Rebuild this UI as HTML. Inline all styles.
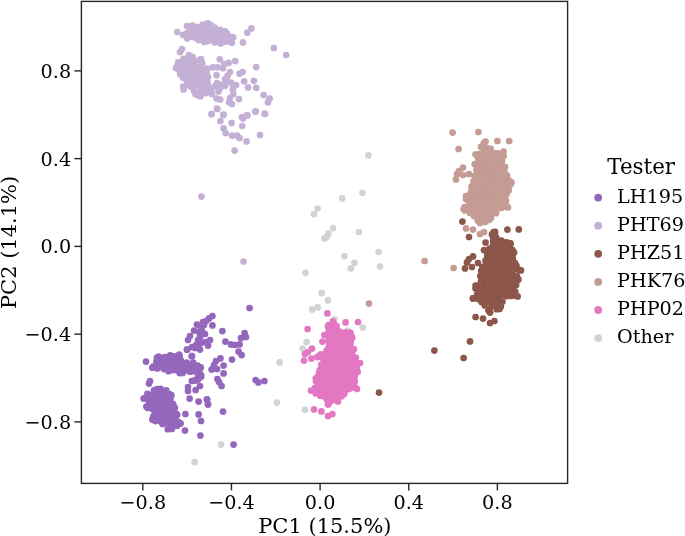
<!DOCTYPE html>
<html><head><meta charset="utf-8"><title>PCA</title>
<style>
html,body{margin:0;padding:0;background:#fff;}
svg{display:block;}
text{font-family:'DejaVu Serif','Liberation Serif',serif;fill:#000;}
</style></head><body>
<svg width="685" height="536" viewBox="0 0 685 536">
<rect width="685" height="536" fill="#ffffff"/>

<g>
<circle cx="183.1" cy="34.9" r="3.35" fill="#c5b0d5"/>
<circle cx="187.2" cy="38.3" r="3.35" fill="#c5b0d5"/>
<circle cx="194.9" cy="37.6" r="3.35" fill="#c5b0d5"/>
<circle cx="198.5" cy="40.1" r="3.35" fill="#c5b0d5"/>
<circle cx="204.1" cy="42.0" r="3.35" fill="#c5b0d5"/>
<circle cx="207.8" cy="41.1" r="3.35" fill="#c5b0d5"/>
<circle cx="214.9" cy="42.5" r="3.35" fill="#c5b0d5"/>
<circle cx="220.7" cy="43.5" r="3.35" fill="#c5b0d5"/>
<circle cx="225.3" cy="41.7" r="3.35" fill="#c5b0d5"/>
<circle cx="232.0" cy="42.7" r="3.35" fill="#c5b0d5"/>
<circle cx="233.2" cy="37.3" r="3.35" fill="#c5b0d5"/>
<circle cx="228.2" cy="35.9" r="3.35" fill="#c5b0d5"/>
<circle cx="225.3" cy="31.4" r="3.35" fill="#c5b0d5"/>
<circle cx="220.1" cy="29.8" r="3.35" fill="#c5b0d5"/>
<circle cx="214.5" cy="27.7" r="3.35" fill="#c5b0d5"/>
<circle cx="210.9" cy="25.0" r="3.35" fill="#c5b0d5"/>
<circle cx="207.7" cy="23.4" r="3.35" fill="#c5b0d5"/>
<circle cx="202.7" cy="24.5" r="3.35" fill="#c5b0d5"/>
<circle cx="197.4" cy="27.0" r="3.35" fill="#c5b0d5"/>
<circle cx="192.7" cy="25.5" r="3.35" fill="#c5b0d5"/>
<circle cx="187.0" cy="26.0" r="3.35" fill="#c5b0d5"/>
<circle cx="187.6" cy="32.9" r="3.35" fill="#c5b0d5"/>
<circle cx="188.8" cy="26.4" r="3.35" fill="#c5b0d5"/>
<circle cx="209.6" cy="25.0" r="3.35" fill="#c5b0d5"/>
<circle cx="191.5" cy="29.8" r="3.35" fill="#c5b0d5"/>
<circle cx="194.9" cy="27.8" r="3.35" fill="#c5b0d5"/>
<circle cx="195.7" cy="29.8" r="3.35" fill="#c5b0d5"/>
<circle cx="200.4" cy="28.4" r="3.35" fill="#c5b0d5"/>
<circle cx="205.1" cy="28.9" r="3.35" fill="#c5b0d5"/>
<circle cx="211.1" cy="29.4" r="3.35" fill="#c5b0d5"/>
<circle cx="213.8" cy="29.2" r="3.35" fill="#c5b0d5"/>
<circle cx="187.7" cy="32.6" r="3.35" fill="#c5b0d5"/>
<circle cx="192.8" cy="32.5" r="3.35" fill="#c5b0d5"/>
<circle cx="195.6" cy="30.3" r="3.35" fill="#c5b0d5"/>
<circle cx="197.6" cy="31.7" r="3.35" fill="#c5b0d5"/>
<circle cx="202.4" cy="31.5" r="3.35" fill="#c5b0d5"/>
<circle cx="209.2" cy="31.3" r="3.35" fill="#c5b0d5"/>
<circle cx="211.4" cy="32.5" r="3.35" fill="#c5b0d5"/>
<circle cx="215.9" cy="30.5" r="3.35" fill="#c5b0d5"/>
<circle cx="222.2" cy="31.6" r="3.35" fill="#c5b0d5"/>
<circle cx="186.9" cy="33.8" r="3.35" fill="#c5b0d5"/>
<circle cx="190.2" cy="33.8" r="3.35" fill="#c5b0d5"/>
<circle cx="192.6" cy="33.8" r="3.35" fill="#c5b0d5"/>
<circle cx="197.8" cy="35.1" r="3.35" fill="#c5b0d5"/>
<circle cx="200.6" cy="35.2" r="3.35" fill="#c5b0d5"/>
<circle cx="203.6" cy="34.2" r="3.35" fill="#c5b0d5"/>
<circle cx="208.5" cy="33.5" r="3.35" fill="#c5b0d5"/>
<circle cx="209.6" cy="33.4" r="3.35" fill="#c5b0d5"/>
<circle cx="214.3" cy="35.6" r="3.35" fill="#c5b0d5"/>
<circle cx="216.3" cy="34.6" r="3.35" fill="#c5b0d5"/>
<circle cx="222.0" cy="34.1" r="3.35" fill="#c5b0d5"/>
<circle cx="224.3" cy="33.4" r="3.35" fill="#c5b0d5"/>
<circle cx="226.5" cy="33.2" r="3.35" fill="#c5b0d5"/>
<circle cx="189.3" cy="36.6" r="3.35" fill="#c5b0d5"/>
<circle cx="192.1" cy="36.5" r="3.35" fill="#c5b0d5"/>
<circle cx="195.8" cy="36.5" r="3.35" fill="#c5b0d5"/>
<circle cx="198.5" cy="38.7" r="3.35" fill="#c5b0d5"/>
<circle cx="202.2" cy="38.3" r="3.35" fill="#c5b0d5"/>
<circle cx="206.1" cy="36.9" r="3.35" fill="#c5b0d5"/>
<circle cx="208.4" cy="36.1" r="3.35" fill="#c5b0d5"/>
<circle cx="213.5" cy="38.1" r="3.35" fill="#c5b0d5"/>
<circle cx="218.6" cy="37.7" r="3.35" fill="#c5b0d5"/>
<circle cx="221.8" cy="38.2" r="3.35" fill="#c5b0d5"/>
<circle cx="227.0" cy="38.4" r="3.35" fill="#c5b0d5"/>
<circle cx="228.9" cy="36.6" r="3.35" fill="#c5b0d5"/>
<circle cx="231.9" cy="37.1" r="3.35" fill="#c5b0d5"/>
<circle cx="203.1" cy="39.3" r="3.35" fill="#c5b0d5"/>
<circle cx="208.0" cy="39.3" r="3.35" fill="#c5b0d5"/>
<circle cx="211.5" cy="40.1" r="3.35" fill="#c5b0d5"/>
<circle cx="216.1" cy="41.1" r="3.35" fill="#c5b0d5"/>
<circle cx="225.0" cy="39.9" r="3.35" fill="#c5b0d5"/>
<circle cx="228.1" cy="39.5" r="3.35" fill="#c5b0d5"/>
<circle cx="230.0" cy="41.4" r="3.35" fill="#c5b0d5"/>
<circle cx="177.2" cy="32.0" r="3.35" fill="#c5b0d5"/>
<circle cx="243.0" cy="42.4" r="3.35" fill="#c5b0d5"/>
<circle cx="247.4" cy="32.6" r="3.35" fill="#c5b0d5"/>
<circle cx="251.4" cy="28.4" r="3.35" fill="#c5b0d5"/>
<circle cx="273.8" cy="48.0" r="3.35" fill="#c5b0d5"/>
<circle cx="286.2" cy="55.0" r="3.35" fill="#c5b0d5"/>
<circle cx="175.9" cy="68.1" r="3.35" fill="#c5b0d5"/>
<circle cx="179.5" cy="70.5" r="3.35" fill="#c5b0d5"/>
<circle cx="180.2" cy="74.2" r="3.35" fill="#c5b0d5"/>
<circle cx="183.0" cy="77.6" r="3.35" fill="#c5b0d5"/>
<circle cx="187.5" cy="84.1" r="3.35" fill="#c5b0d5"/>
<circle cx="191.0" cy="86.7" r="3.35" fill="#c5b0d5"/>
<circle cx="193.9" cy="90.7" r="3.35" fill="#c5b0d5"/>
<circle cx="198.5" cy="95.4" r="3.35" fill="#c5b0d5"/>
<circle cx="200.5" cy="96.2" r="3.35" fill="#c5b0d5"/>
<circle cx="206.0" cy="93.1" r="3.35" fill="#c5b0d5"/>
<circle cx="211.3" cy="89.3" r="3.35" fill="#c5b0d5"/>
<circle cx="206.7" cy="86.9" r="3.35" fill="#c5b0d5"/>
<circle cx="206.9" cy="81.4" r="3.35" fill="#c5b0d5"/>
<circle cx="207.1" cy="76.4" r="3.35" fill="#c5b0d5"/>
<circle cx="206.5" cy="72.7" r="3.35" fill="#c5b0d5"/>
<circle cx="202.6" cy="69.3" r="3.35" fill="#c5b0d5"/>
<circle cx="202.3" cy="63.1" r="3.35" fill="#c5b0d5"/>
<circle cx="199.5" cy="60.0" r="3.35" fill="#c5b0d5"/>
<circle cx="192.5" cy="56.9" r="3.35" fill="#c5b0d5"/>
<circle cx="188.8" cy="55.2" r="3.35" fill="#c5b0d5"/>
<circle cx="183.4" cy="58.9" r="3.35" fill="#c5b0d5"/>
<circle cx="178.2" cy="62.3" r="3.35" fill="#c5b0d5"/>
<circle cx="187.0" cy="59.7" r="3.35" fill="#c5b0d5"/>
<circle cx="190.2" cy="59.3" r="3.35" fill="#c5b0d5"/>
<circle cx="193.2" cy="60.1" r="3.35" fill="#c5b0d5"/>
<circle cx="180.2" cy="62.5" r="3.35" fill="#c5b0d5"/>
<circle cx="183.1" cy="61.7" r="3.35" fill="#c5b0d5"/>
<circle cx="189.2" cy="62.8" r="3.35" fill="#c5b0d5"/>
<circle cx="193.0" cy="61.5" r="3.35" fill="#c5b0d5"/>
<circle cx="195.2" cy="63.0" r="3.35" fill="#c5b0d5"/>
<circle cx="177.8" cy="64.8" r="3.35" fill="#c5b0d5"/>
<circle cx="182.0" cy="66.1" r="3.35" fill="#c5b0d5"/>
<circle cx="184.1" cy="64.1" r="3.35" fill="#c5b0d5"/>
<circle cx="188.0" cy="65.5" r="3.35" fill="#c5b0d5"/>
<circle cx="191.6" cy="64.1" r="3.35" fill="#c5b0d5"/>
<circle cx="178.6" cy="68.1" r="3.35" fill="#c5b0d5"/>
<circle cx="183.6" cy="68.9" r="3.35" fill="#c5b0d5"/>
<circle cx="185.8" cy="67.7" r="3.35" fill="#c5b0d5"/>
<circle cx="188.1" cy="67.5" r="3.35" fill="#c5b0d5"/>
<circle cx="192.8" cy="66.8" r="3.35" fill="#c5b0d5"/>
<circle cx="195.0" cy="68.5" r="3.35" fill="#c5b0d5"/>
<circle cx="199.2" cy="67.7" r="3.35" fill="#c5b0d5"/>
<circle cx="184.1" cy="70.4" r="3.35" fill="#c5b0d5"/>
<circle cx="186.8" cy="70.9" r="3.35" fill="#c5b0d5"/>
<circle cx="189.9" cy="70.1" r="3.35" fill="#c5b0d5"/>
<circle cx="194.1" cy="71.8" r="3.35" fill="#c5b0d5"/>
<circle cx="196.7" cy="71.3" r="3.35" fill="#c5b0d5"/>
<circle cx="201.4" cy="70.3" r="3.35" fill="#c5b0d5"/>
<circle cx="183.1" cy="72.3" r="3.35" fill="#c5b0d5"/>
<circle cx="186.7" cy="74.2" r="3.35" fill="#c5b0d5"/>
<circle cx="188.9" cy="73.5" r="3.35" fill="#c5b0d5"/>
<circle cx="193.5" cy="73.0" r="3.35" fill="#c5b0d5"/>
<circle cx="196.2" cy="73.5" r="3.35" fill="#c5b0d5"/>
<circle cx="200.8" cy="74.4" r="3.35" fill="#c5b0d5"/>
<circle cx="203.9" cy="73.0" r="3.35" fill="#c5b0d5"/>
<circle cx="183.8" cy="77.9" r="3.35" fill="#c5b0d5"/>
<circle cx="192.1" cy="77.9" r="3.35" fill="#c5b0d5"/>
<circle cx="194.8" cy="75.5" r="3.35" fill="#c5b0d5"/>
<circle cx="197.3" cy="75.8" r="3.35" fill="#c5b0d5"/>
<circle cx="201.7" cy="77.1" r="3.35" fill="#c5b0d5"/>
<circle cx="204.7" cy="75.5" r="3.35" fill="#c5b0d5"/>
<circle cx="186.5" cy="79.3" r="3.35" fill="#c5b0d5"/>
<circle cx="190.1" cy="79.7" r="3.35" fill="#c5b0d5"/>
<circle cx="192.6" cy="78.2" r="3.35" fill="#c5b0d5"/>
<circle cx="196.4" cy="80.6" r="3.35" fill="#c5b0d5"/>
<circle cx="198.7" cy="79.5" r="3.35" fill="#c5b0d5"/>
<circle cx="202.9" cy="79.3" r="3.35" fill="#c5b0d5"/>
<circle cx="188.0" cy="82.2" r="3.35" fill="#c5b0d5"/>
<circle cx="194.3" cy="83.1" r="3.35" fill="#c5b0d5"/>
<circle cx="198.2" cy="83.3" r="3.35" fill="#c5b0d5"/>
<circle cx="199.9" cy="83.7" r="3.35" fill="#c5b0d5"/>
<circle cx="205.3" cy="82.8" r="3.35" fill="#c5b0d5"/>
<circle cx="189.6" cy="85.3" r="3.35" fill="#c5b0d5"/>
<circle cx="192.9" cy="85.3" r="3.35" fill="#c5b0d5"/>
<circle cx="197.4" cy="84.3" r="3.35" fill="#c5b0d5"/>
<circle cx="198.2" cy="85.4" r="3.35" fill="#c5b0d5"/>
<circle cx="203.9" cy="85.9" r="3.35" fill="#c5b0d5"/>
<circle cx="206.3" cy="85.9" r="3.35" fill="#c5b0d5"/>
<circle cx="193.4" cy="87.5" r="3.35" fill="#c5b0d5"/>
<circle cx="201.4" cy="89.7" r="3.35" fill="#c5b0d5"/>
<circle cx="204.7" cy="88.1" r="3.35" fill="#c5b0d5"/>
<circle cx="195.0" cy="91.7" r="3.35" fill="#c5b0d5"/>
<circle cx="199.6" cy="92.3" r="3.35" fill="#c5b0d5"/>
<circle cx="203.3" cy="90.8" r="3.35" fill="#c5b0d5"/>
<circle cx="206.2" cy="90.6" r="3.35" fill="#c5b0d5"/>
<circle cx="195.6" cy="94.2" r="3.35" fill="#c5b0d5"/>
<circle cx="200.5" cy="93.5" r="3.35" fill="#c5b0d5"/>
<circle cx="180.0" cy="52.0" r="3.35" fill="#c5b0d5"/>
<circle cx="182.0" cy="49.0" r="3.35" fill="#c5b0d5"/>
<circle cx="183.2" cy="86.6" r="3.35" fill="#c5b0d5"/>
<circle cx="183.6" cy="89.4" r="3.35" fill="#c5b0d5"/>
<circle cx="201.0" cy="59.0" r="3.35" fill="#c5b0d5"/>
<circle cx="229.0" cy="102.0" r="3.35" fill="#c5b0d5"/>
<circle cx="232.0" cy="104.0" r="3.35" fill="#c5b0d5"/>
<circle cx="217.0" cy="108.6" r="3.35" fill="#c5b0d5"/>
<circle cx="211.6" cy="114.0" r="3.35" fill="#c5b0d5"/>
<circle cx="223.4" cy="114.6" r="3.35" fill="#c5b0d5"/>
<circle cx="263.6" cy="95.0" r="3.35" fill="#c5b0d5"/>
<circle cx="269.6" cy="98.6" r="3.35" fill="#c5b0d5"/>
<circle cx="268.0" cy="102.4" r="3.35" fill="#c5b0d5"/>
<circle cx="264.6" cy="113.6" r="3.35" fill="#c5b0d5"/>
<circle cx="255.4" cy="111.6" r="3.35" fill="#c5b0d5"/>
<circle cx="247.0" cy="115.0" r="3.35" fill="#c5b0d5"/>
<circle cx="242.0" cy="117.0" r="3.35" fill="#c5b0d5"/>
<circle cx="207.1" cy="68.7" r="3.35" fill="#c5b0d5"/>
<circle cx="208.1" cy="77.1" r="3.35" fill="#c5b0d5"/>
<circle cx="207.6" cy="82.7" r="3.35" fill="#c5b0d5"/>
<circle cx="209.0" cy="87.4" r="3.35" fill="#c5b0d5"/>
<circle cx="226.8" cy="80.8" r="3.35" fill="#c5b0d5"/>
<circle cx="219.8" cy="59.3" r="3.35" fill="#c5b0d5"/>
<circle cx="228.6" cy="62.9" r="3.35" fill="#c5b0d5"/>
<circle cx="235.2" cy="61.0" r="3.35" fill="#c5b0d5"/>
<circle cx="224.0" cy="64.0" r="3.35" fill="#c5b0d5"/>
<circle cx="212.8" cy="67.3" r="3.35" fill="#c5b0d5"/>
<circle cx="217.4" cy="67.3" r="3.35" fill="#c5b0d5"/>
<circle cx="223.0" cy="68.2" r="3.35" fill="#c5b0d5"/>
<circle cx="230.0" cy="72.0" r="3.35" fill="#c5b0d5"/>
<circle cx="216.5" cy="75.2" r="3.35" fill="#c5b0d5"/>
<circle cx="227.7" cy="75.7" r="3.35" fill="#c5b0d5"/>
<circle cx="224.9" cy="79.0" r="3.35" fill="#c5b0d5"/>
<circle cx="256.2" cy="67.1" r="3.35" fill="#c5b0d5"/>
<circle cx="242.6" cy="72.0" r="3.35" fill="#c5b0d5"/>
<circle cx="239.4" cy="73.8" r="3.35" fill="#c5b0d5"/>
<circle cx="244.1" cy="81.3" r="3.35" fill="#c5b0d5"/>
<circle cx="253.9" cy="80.8" r="3.35" fill="#c5b0d5"/>
<circle cx="248.0" cy="87.4" r="3.35" fill="#c5b0d5"/>
<circle cx="256.2" cy="87.8" r="3.35" fill="#c5b0d5"/>
<circle cx="236.1" cy="85.0" r="3.35" fill="#c5b0d5"/>
<circle cx="231.0" cy="82.7" r="3.35" fill="#c5b0d5"/>
<circle cx="217.0" cy="83.2" r="3.35" fill="#c5b0d5"/>
<circle cx="223.0" cy="84.1" r="3.35" fill="#c5b0d5"/>
<circle cx="215.1" cy="86.0" r="3.35" fill="#c5b0d5"/>
<circle cx="224.9" cy="86.0" r="3.35" fill="#c5b0d5"/>
<circle cx="219.8" cy="88.3" r="3.35" fill="#c5b0d5"/>
<circle cx="232.8" cy="89.2" r="3.35" fill="#c5b0d5"/>
<circle cx="233.3" cy="93.9" r="3.35" fill="#c5b0d5"/>
<circle cx="218.4" cy="91.6" r="3.35" fill="#c5b0d5"/>
<circle cx="211.8" cy="93.9" r="3.35" fill="#c5b0d5"/>
<circle cx="230.0" cy="98.1" r="3.35" fill="#c5b0d5"/>
<circle cx="238.9" cy="99.1" r="3.35" fill="#c5b0d5"/>
<circle cx="216.5" cy="98.6" r="3.35" fill="#c5b0d5"/>
<circle cx="220.2" cy="99.5" r="3.35" fill="#c5b0d5"/>
<circle cx="217.4" cy="109.0" r="3.35" fill="#c5b0d5"/>
<circle cx="211.6" cy="114.2" r="3.35" fill="#c5b0d5"/>
<circle cx="223.4" cy="115.0" r="3.35" fill="#c5b0d5"/>
<circle cx="220.4" cy="121.0" r="3.35" fill="#c5b0d5"/>
<circle cx="231.6" cy="123.0" r="3.35" fill="#c5b0d5"/>
<circle cx="243.0" cy="118.6" r="3.35" fill="#c5b0d5"/>
<circle cx="247.4" cy="115.4" r="3.35" fill="#c5b0d5"/>
<circle cx="255.6" cy="111.4" r="3.35" fill="#c5b0d5"/>
<circle cx="265.0" cy="114.0" r="3.35" fill="#c5b0d5"/>
<circle cx="242.2" cy="126.0" r="3.35" fill="#c5b0d5"/>
<circle cx="223.6" cy="128.4" r="3.35" fill="#c5b0d5"/>
<circle cx="225.6" cy="133.0" r="3.35" fill="#c5b0d5"/>
<circle cx="232.0" cy="135.6" r="3.35" fill="#c5b0d5"/>
<circle cx="237.0" cy="135.6" r="3.35" fill="#c5b0d5"/>
<circle cx="239.6" cy="138.0" r="3.35" fill="#c5b0d5"/>
<circle cx="246.6" cy="141.4" r="3.35" fill="#c5b0d5"/>
<circle cx="260.0" cy="135.0" r="3.35" fill="#c5b0d5"/>
<circle cx="234.6" cy="150.6" r="3.35" fill="#c5b0d5"/>
<circle cx="201.4" cy="196.6" r="3.35" fill="#c5b0d5"/>
<circle cx="243.5" cy="261.5" r="3.35" fill="#c5b0d5"/>
<circle cx="249.6" cy="308.0" r="3.35" fill="#9467bd"/>
<circle cx="146.0" cy="361.6" r="3.35" fill="#9467bd"/>
<circle cx="222.4" cy="331.0" r="3.35" fill="#9467bd"/>
<circle cx="244.6" cy="333.0" r="3.35" fill="#9467bd"/>
<circle cx="246.0" cy="337.0" r="3.35" fill="#9467bd"/>
<circle cx="241.0" cy="338.0" r="3.35" fill="#9467bd"/>
<circle cx="225.4" cy="341.6" r="3.35" fill="#9467bd"/>
<circle cx="231.0" cy="344.4" r="3.35" fill="#9467bd"/>
<circle cx="235.0" cy="345.0" r="3.35" fill="#9467bd"/>
<circle cx="239.6" cy="344.4" r="3.35" fill="#9467bd"/>
<circle cx="238.6" cy="351.6" r="3.35" fill="#9467bd"/>
<circle cx="241.6" cy="355.0" r="3.35" fill="#9467bd"/>
<circle cx="232.0" cy="359.6" r="3.35" fill="#9467bd"/>
<circle cx="220.4" cy="358.4" r="3.35" fill="#9467bd"/>
<circle cx="216.0" cy="361.0" r="3.35" fill="#9467bd"/>
<circle cx="214.0" cy="365.0" r="3.35" fill="#9467bd"/>
<circle cx="223.6" cy="365.6" r="3.35" fill="#9467bd"/>
<circle cx="217.0" cy="369.0" r="3.35" fill="#9467bd"/>
<circle cx="211.6" cy="369.6" r="3.35" fill="#9467bd"/>
<circle cx="223.6" cy="373.4" r="3.35" fill="#9467bd"/>
<circle cx="217.4" cy="379.0" r="3.35" fill="#9467bd"/>
<circle cx="219.0" cy="382.0" r="3.35" fill="#9467bd"/>
<circle cx="221.6" cy="386.0" r="3.35" fill="#9467bd"/>
<circle cx="255.6" cy="380.0" r="3.35" fill="#9467bd"/>
<circle cx="258.4" cy="382.4" r="3.35" fill="#9467bd"/>
<circle cx="264.4" cy="381.0" r="3.35" fill="#9467bd"/>
<circle cx="207.0" cy="399.4" r="3.35" fill="#9467bd"/>
<circle cx="208.0" cy="404.0" r="3.35" fill="#9467bd"/>
<circle cx="188.0" cy="387.0" r="3.35" fill="#9467bd"/>
<circle cx="188.0" cy="391.0" r="3.35" fill="#9467bd"/>
<circle cx="195.6" cy="390.0" r="3.35" fill="#9467bd"/>
<circle cx="200.0" cy="386.0" r="3.35" fill="#9467bd"/>
<circle cx="150.0" cy="381.0" r="3.35" fill="#9467bd"/>
<circle cx="149.0" cy="383.6" r="3.35" fill="#9467bd"/>
<circle cx="212.4" cy="316.0" r="3.35" fill="#9467bd"/>
<circle cx="209.0" cy="318.4" r="3.35" fill="#9467bd"/>
<circle cx="206.0" cy="321.0" r="3.35" fill="#9467bd"/>
<circle cx="212.4" cy="325.4" r="3.35" fill="#9467bd"/>
<circle cx="197.0" cy="324.6" r="3.35" fill="#9467bd"/>
<circle cx="204.0" cy="325.0" r="3.35" fill="#9467bd"/>
<circle cx="201.0" cy="328.0" r="3.35" fill="#9467bd"/>
<circle cx="194.0" cy="330.6" r="3.35" fill="#9467bd"/>
<circle cx="199.0" cy="332.0" r="3.35" fill="#9467bd"/>
<circle cx="205.0" cy="334.0" r="3.35" fill="#9467bd"/>
<circle cx="200.0" cy="337.0" r="3.35" fill="#9467bd"/>
<circle cx="190.0" cy="336.0" r="3.35" fill="#9467bd"/>
<circle cx="188.0" cy="340.0" r="3.35" fill="#9467bd"/>
<circle cx="210.0" cy="340.0" r="3.35" fill="#9467bd"/>
<circle cx="205.0" cy="342.0" r="3.35" fill="#9467bd"/>
<circle cx="201.0" cy="343.0" r="3.35" fill="#9467bd"/>
<circle cx="208.0" cy="345.6" r="3.35" fill="#9467bd"/>
<circle cx="196.0" cy="345.0" r="3.35" fill="#9467bd"/>
<circle cx="192.0" cy="347.0" r="3.35" fill="#9467bd"/>
<circle cx="200.0" cy="349.6" r="3.35" fill="#9467bd"/>
<circle cx="187.0" cy="349.6" r="3.35" fill="#9467bd"/>
<circle cx="192.0" cy="356.0" r="3.35" fill="#9467bd"/>
<circle cx="195.0" cy="348.0" r="3.35" fill="#9467bd"/>
<circle cx="203.0" cy="322.0" r="3.35" fill="#9467bd"/>
<circle cx="202.0" cy="331.0" r="3.35" fill="#9467bd"/>
<circle cx="198.0" cy="340.0" r="3.35" fill="#9467bd"/>
<circle cx="198.0" cy="347.0" r="3.35" fill="#9467bd"/>
<circle cx="153.2" cy="366.5" r="3.35" fill="#9467bd"/>
<circle cx="157.3" cy="368.4" r="3.35" fill="#9467bd"/>
<circle cx="164.1" cy="369.1" r="3.35" fill="#9467bd"/>
<circle cx="168.5" cy="371.2" r="3.35" fill="#9467bd"/>
<circle cx="173.1" cy="369.9" r="3.35" fill="#9467bd"/>
<circle cx="179.6" cy="373.1" r="3.35" fill="#9467bd"/>
<circle cx="182.6" cy="372.9" r="3.35" fill="#9467bd"/>
<circle cx="190.1" cy="371.7" r="3.35" fill="#9467bd"/>
<circle cx="194.9" cy="371.5" r="3.35" fill="#9467bd"/>
<circle cx="198.8" cy="373.7" r="3.35" fill="#9467bd"/>
<circle cx="199.7" cy="369.3" r="3.35" fill="#9467bd"/>
<circle cx="197.6" cy="365.5" r="3.35" fill="#9467bd"/>
<circle cx="193.2" cy="362.6" r="3.35" fill="#9467bd"/>
<circle cx="186.7" cy="362.5" r="3.35" fill="#9467bd"/>
<circle cx="180.8" cy="360.4" r="3.35" fill="#9467bd"/>
<circle cx="179.6" cy="356.3" r="3.35" fill="#9467bd"/>
<circle cx="174.5" cy="356.4" r="3.35" fill="#9467bd"/>
<circle cx="170.2" cy="355.4" r="3.35" fill="#9467bd"/>
<circle cx="165.0" cy="357.0" r="3.35" fill="#9467bd"/>
<circle cx="158.7" cy="356.6" r="3.35" fill="#9467bd"/>
<circle cx="156.4" cy="361.3" r="3.35" fill="#9467bd"/>
<circle cx="158.4" cy="358.2" r="3.35" fill="#9467bd"/>
<circle cx="161.1" cy="357.8" r="3.35" fill="#9467bd"/>
<circle cx="175.7" cy="358.3" r="3.35" fill="#9467bd"/>
<circle cx="178.4" cy="358.9" r="3.35" fill="#9467bd"/>
<circle cx="157.4" cy="360.1" r="3.35" fill="#9467bd"/>
<circle cx="160.7" cy="360.8" r="3.35" fill="#9467bd"/>
<circle cx="164.3" cy="360.6" r="3.35" fill="#9467bd"/>
<circle cx="169.8" cy="360.9" r="3.35" fill="#9467bd"/>
<circle cx="173.5" cy="362.3" r="3.35" fill="#9467bd"/>
<circle cx="176.6" cy="361.7" r="3.35" fill="#9467bd"/>
<circle cx="180.3" cy="360.6" r="3.35" fill="#9467bd"/>
<circle cx="159.2" cy="363.7" r="3.35" fill="#9467bd"/>
<circle cx="161.6" cy="364.1" r="3.35" fill="#9467bd"/>
<circle cx="169.8" cy="365.3" r="3.35" fill="#9467bd"/>
<circle cx="171.8" cy="365.5" r="3.35" fill="#9467bd"/>
<circle cx="174.6" cy="365.0" r="3.35" fill="#9467bd"/>
<circle cx="179.2" cy="364.3" r="3.35" fill="#9467bd"/>
<circle cx="185.8" cy="363.7" r="3.35" fill="#9467bd"/>
<circle cx="187.7" cy="365.4" r="3.35" fill="#9467bd"/>
<circle cx="193.5" cy="365.4" r="3.35" fill="#9467bd"/>
<circle cx="156.7" cy="367.0" r="3.35" fill="#9467bd"/>
<circle cx="160.4" cy="366.8" r="3.35" fill="#9467bd"/>
<circle cx="164.5" cy="367.2" r="3.35" fill="#9467bd"/>
<circle cx="166.5" cy="366.4" r="3.35" fill="#9467bd"/>
<circle cx="171.1" cy="366.4" r="3.35" fill="#9467bd"/>
<circle cx="174.8" cy="368.1" r="3.35" fill="#9467bd"/>
<circle cx="175.7" cy="367.6" r="3.35" fill="#9467bd"/>
<circle cx="179.3" cy="366.6" r="3.35" fill="#9467bd"/>
<circle cx="184.0" cy="367.0" r="3.35" fill="#9467bd"/>
<circle cx="197.5" cy="366.8" r="3.35" fill="#9467bd"/>
<circle cx="171.1" cy="369.9" r="3.35" fill="#9467bd"/>
<circle cx="176.2" cy="369.9" r="3.35" fill="#9467bd"/>
<circle cx="179.1" cy="370.0" r="3.35" fill="#9467bd"/>
<circle cx="182.2" cy="370.8" r="3.35" fill="#9467bd"/>
<circle cx="186.1" cy="370.1" r="3.35" fill="#9467bd"/>
<circle cx="191.2" cy="370.0" r="3.35" fill="#9467bd"/>
<circle cx="196.8" cy="371.4" r="3.35" fill="#9467bd"/>
<circle cx="201.1" cy="375.1" r="3.35" fill="#9467bd"/>
<circle cx="195.8" cy="380.4" r="3.35" fill="#9467bd"/>
<circle cx="197.7" cy="379.4" r="3.35" fill="#9467bd"/>
<circle cx="197.9" cy="377.7" r="3.35" fill="#9467bd"/>
<circle cx="191.8" cy="356.2" r="3.35" fill="#9467bd"/>
<circle cx="187.1" cy="349.7" r="3.35" fill="#9467bd"/>
<circle cx="201.1" cy="376.8" r="3.35" fill="#9467bd"/>
<circle cx="198.3" cy="379.1" r="3.35" fill="#9467bd"/>
<circle cx="194.6" cy="380.3" r="3.35" fill="#9467bd"/>
<circle cx="191.8" cy="381.0" r="3.35" fill="#9467bd"/>
<circle cx="179.2" cy="354.6" r="3.35" fill="#9467bd"/>
<circle cx="152.4" cy="367.7" r="3.35" fill="#9467bd"/>
<circle cx="157.0" cy="357.6" r="3.35" fill="#9467bd"/>
<circle cx="200.7" cy="367.4" r="3.35" fill="#9467bd"/>
<circle cx="146.3" cy="398.5" r="3.35" fill="#9467bd"/>
<circle cx="148.9" cy="399.5" r="3.35" fill="#9467bd"/>
<circle cx="149.0" cy="403.4" r="3.35" fill="#9467bd"/>
<circle cx="147.5" cy="407.8" r="3.35" fill="#9467bd"/>
<circle cx="153.3" cy="409.4" r="3.35" fill="#9467bd"/>
<circle cx="153.5" cy="416.3" r="3.35" fill="#9467bd"/>
<circle cx="155.3" cy="421.1" r="3.35" fill="#9467bd"/>
<circle cx="160.8" cy="421.4" r="3.35" fill="#9467bd"/>
<circle cx="162.6" cy="423.9" r="3.35" fill="#9467bd"/>
<circle cx="167.8" cy="429.2" r="3.35" fill="#9467bd"/>
<circle cx="171.9" cy="428.9" r="3.35" fill="#9467bd"/>
<circle cx="177.0" cy="425.7" r="3.35" fill="#9467bd"/>
<circle cx="180.6" cy="423.4" r="3.35" fill="#9467bd"/>
<circle cx="177.6" cy="422.2" r="3.35" fill="#9467bd"/>
<circle cx="177.2" cy="414.8" r="3.35" fill="#9467bd"/>
<circle cx="174.4" cy="408.3" r="3.35" fill="#9467bd"/>
<circle cx="173.1" cy="404.2" r="3.35" fill="#9467bd"/>
<circle cx="170.4" cy="399.3" r="3.35" fill="#9467bd"/>
<circle cx="171.4" cy="395.2" r="3.35" fill="#9467bd"/>
<circle cx="166.3" cy="390.4" r="3.35" fill="#9467bd"/>
<circle cx="160.7" cy="388.8" r="3.35" fill="#9467bd"/>
<circle cx="157.1" cy="389.2" r="3.35" fill="#9467bd"/>
<circle cx="154.0" cy="390.4" r="3.35" fill="#9467bd"/>
<circle cx="147.4" cy="393.9" r="3.35" fill="#9467bd"/>
<circle cx="156.6" cy="391.4" r="3.35" fill="#9467bd"/>
<circle cx="161.3" cy="390.6" r="3.35" fill="#9467bd"/>
<circle cx="151.6" cy="395.0" r="3.35" fill="#9467bd"/>
<circle cx="155.9" cy="394.0" r="3.35" fill="#9467bd"/>
<circle cx="160.9" cy="394.6" r="3.35" fill="#9467bd"/>
<circle cx="166.2" cy="393.2" r="3.35" fill="#9467bd"/>
<circle cx="169.3" cy="394.0" r="3.35" fill="#9467bd"/>
<circle cx="145.2" cy="397.9" r="3.35" fill="#9467bd"/>
<circle cx="150.2" cy="395.3" r="3.35" fill="#9467bd"/>
<circle cx="152.1" cy="397.9" r="3.35" fill="#9467bd"/>
<circle cx="155.4" cy="395.7" r="3.35" fill="#9467bd"/>
<circle cx="160.1" cy="397.3" r="3.35" fill="#9467bd"/>
<circle cx="167.9" cy="395.3" r="3.35" fill="#9467bd"/>
<circle cx="169.1" cy="397.4" r="3.35" fill="#9467bd"/>
<circle cx="150.2" cy="399.8" r="3.35" fill="#9467bd"/>
<circle cx="155.8" cy="399.8" r="3.35" fill="#9467bd"/>
<circle cx="157.9" cy="400.3" r="3.35" fill="#9467bd"/>
<circle cx="160.3" cy="400.5" r="3.35" fill="#9467bd"/>
<circle cx="165.9" cy="398.4" r="3.35" fill="#9467bd"/>
<circle cx="168.1" cy="400.3" r="3.35" fill="#9467bd"/>
<circle cx="153.9" cy="401.3" r="3.35" fill="#9467bd"/>
<circle cx="155.7" cy="402.0" r="3.35" fill="#9467bd"/>
<circle cx="159.7" cy="403.3" r="3.35" fill="#9467bd"/>
<circle cx="162.4" cy="403.5" r="3.35" fill="#9467bd"/>
<circle cx="165.9" cy="401.5" r="3.35" fill="#9467bd"/>
<circle cx="169.7" cy="402.6" r="3.35" fill="#9467bd"/>
<circle cx="151.1" cy="406.2" r="3.35" fill="#9467bd"/>
<circle cx="155.2" cy="405.9" r="3.35" fill="#9467bd"/>
<circle cx="157.7" cy="406.6" r="3.35" fill="#9467bd"/>
<circle cx="161.6" cy="406.6" r="3.35" fill="#9467bd"/>
<circle cx="164.5" cy="406.5" r="3.35" fill="#9467bd"/>
<circle cx="169.2" cy="405.8" r="3.35" fill="#9467bd"/>
<circle cx="170.9" cy="406.2" r="3.35" fill="#9467bd"/>
<circle cx="150.8" cy="408.1" r="3.35" fill="#9467bd"/>
<circle cx="156.3" cy="409.6" r="3.35" fill="#9467bd"/>
<circle cx="160.4" cy="407.9" r="3.35" fill="#9467bd"/>
<circle cx="162.8" cy="407.1" r="3.35" fill="#9467bd"/>
<circle cx="165.4" cy="409.6" r="3.35" fill="#9467bd"/>
<circle cx="171.1" cy="409.2" r="3.35" fill="#9467bd"/>
<circle cx="174.8" cy="407.5" r="3.35" fill="#9467bd"/>
<circle cx="155.8" cy="410.8" r="3.35" fill="#9467bd"/>
<circle cx="158.0" cy="411.6" r="3.35" fill="#9467bd"/>
<circle cx="162.2" cy="410.9" r="3.35" fill="#9467bd"/>
<circle cx="164.3" cy="410.9" r="3.35" fill="#9467bd"/>
<circle cx="168.8" cy="412.7" r="3.35" fill="#9467bd"/>
<circle cx="172.9" cy="411.1" r="3.35" fill="#9467bd"/>
<circle cx="161.2" cy="415.7" r="3.35" fill="#9467bd"/>
<circle cx="163.6" cy="413.8" r="3.35" fill="#9467bd"/>
<circle cx="165.6" cy="413.7" r="3.35" fill="#9467bd"/>
<circle cx="169.4" cy="415.5" r="3.35" fill="#9467bd"/>
<circle cx="174.6" cy="415.1" r="3.35" fill="#9467bd"/>
<circle cx="176.2" cy="413.8" r="3.35" fill="#9467bd"/>
<circle cx="153.8" cy="416.0" r="3.35" fill="#9467bd"/>
<circle cx="157.2" cy="416.1" r="3.35" fill="#9467bd"/>
<circle cx="161.1" cy="418.4" r="3.35" fill="#9467bd"/>
<circle cx="165.7" cy="417.7" r="3.35" fill="#9467bd"/>
<circle cx="169.5" cy="417.9" r="3.35" fill="#9467bd"/>
<circle cx="172.0" cy="417.8" r="3.35" fill="#9467bd"/>
<circle cx="175.4" cy="417.3" r="3.35" fill="#9467bd"/>
<circle cx="157.5" cy="419.8" r="3.35" fill="#9467bd"/>
<circle cx="159.7" cy="419.0" r="3.35" fill="#9467bd"/>
<circle cx="162.0" cy="421.5" r="3.35" fill="#9467bd"/>
<circle cx="165.8" cy="421.2" r="3.35" fill="#9467bd"/>
<circle cx="169.4" cy="420.4" r="3.35" fill="#9467bd"/>
<circle cx="173.5" cy="420.8" r="3.35" fill="#9467bd"/>
<circle cx="177.8" cy="421.6" r="3.35" fill="#9467bd"/>
<circle cx="165.4" cy="422.5" r="3.35" fill="#9467bd"/>
<circle cx="168.9" cy="422.7" r="3.35" fill="#9467bd"/>
<circle cx="172.2" cy="422.8" r="3.35" fill="#9467bd"/>
<circle cx="176.3" cy="424.3" r="3.35" fill="#9467bd"/>
<circle cx="179.1" cy="423.7" r="3.35" fill="#9467bd"/>
<circle cx="171.5" cy="427.1" r="3.35" fill="#9467bd"/>
<circle cx="172.2" cy="427.1" r="3.35" fill="#9467bd"/>
<circle cx="177.3" cy="424.9" r="3.35" fill="#9467bd"/>
<circle cx="143.6" cy="398.6" r="3.35" fill="#9467bd"/>
<circle cx="146.4" cy="406.6" r="3.35" fill="#9467bd"/>
<circle cx="152.4" cy="419.6" r="3.35" fill="#9467bd"/>
<circle cx="185.4" cy="414.0" r="3.35" fill="#9467bd"/>
<circle cx="185.0" cy="430.6" r="3.35" fill="#9467bd"/>
<circle cx="198.6" cy="414.4" r="3.35" fill="#9467bd"/>
<circle cx="201.0" cy="421.0" r="3.35" fill="#9467bd"/>
<circle cx="200.4" cy="435.6" r="3.35" fill="#9467bd"/>
<circle cx="223.0" cy="411.6" r="3.35" fill="#9467bd"/>
<circle cx="189.6" cy="398.6" r="3.35" fill="#9467bd"/>
<circle cx="198.6" cy="401.6" r="3.35" fill="#9467bd"/>
<circle cx="207.0" cy="399.6" r="3.35" fill="#9467bd"/>
<circle cx="208.0" cy="404.6" r="3.35" fill="#9467bd"/>
<circle cx="233.6" cy="444.6" r="3.35" fill="#9467bd"/>
<circle cx="221.0" cy="444.6" r="3.35" fill="#d3d3d3"/>
<circle cx="194.6" cy="462.0" r="3.35" fill="#d3d3d3"/>
<circle cx="334.6" cy="319.4" r="3.35" fill="#d3d3d3"/>
<circle cx="362.8" cy="327.6" r="3.35" fill="#d3d3d3"/>
<circle cx="347.6" cy="330.6" r="3.35" fill="#d3d3d3"/>
<circle cx="306.6" cy="342.0" r="3.35" fill="#d3d3d3"/>
<circle cx="302.6" cy="348.6" r="3.35" fill="#d3d3d3"/>
<circle cx="279.6" cy="362.4" r="3.35" fill="#d3d3d3"/>
<circle cx="277.0" cy="402.6" r="3.35" fill="#d3d3d3"/>
<circle cx="305.0" cy="409.8" r="3.35" fill="#d3d3d3"/>
<circle cx="333.0" cy="228.0" r="3.35" fill="#d3d3d3"/>
<circle cx="328.4" cy="233.6" r="3.35" fill="#d3d3d3"/>
<circle cx="327.0" cy="236.4" r="3.35" fill="#d3d3d3"/>
<circle cx="324.4" cy="238.6" r="3.35" fill="#d3d3d3"/>
<circle cx="359.0" cy="232.0" r="3.35" fill="#d3d3d3"/>
<circle cx="378.6" cy="252.0" r="3.35" fill="#d3d3d3"/>
<circle cx="344.4" cy="256.0" r="3.35" fill="#d3d3d3"/>
<circle cx="354.4" cy="262.8" r="3.35" fill="#d3d3d3"/>
<circle cx="350.8" cy="268.4" r="3.35" fill="#d3d3d3"/>
<circle cx="380.0" cy="266.6" r="3.35" fill="#d3d3d3"/>
<circle cx="305.6" cy="272.8" r="3.35" fill="#d3d3d3"/>
<circle cx="321.6" cy="293.0" r="3.35" fill="#d3d3d3"/>
<circle cx="328.0" cy="300.4" r="3.35" fill="#d3d3d3"/>
<circle cx="317.6" cy="307.4" r="3.35" fill="#d3d3d3"/>
<circle cx="312.2" cy="309.4" r="3.35" fill="#d3d3d3"/>
<circle cx="368.4" cy="155.4" r="3.35" fill="#d3d3d3"/>
<circle cx="362.4" cy="192.8" r="3.35" fill="#d3d3d3"/>
<circle cx="342.2" cy="198.4" r="3.35" fill="#d3d3d3"/>
<circle cx="317.6" cy="208.6" r="3.35" fill="#d3d3d3"/>
<circle cx="314.0" cy="214.2" r="3.35" fill="#d3d3d3"/>
<circle cx="328.0" cy="326.8" r="3.35" fill="#e377c2"/>
<circle cx="328.4" cy="332.6" r="3.35" fill="#e377c2"/>
<circle cx="329.5" cy="337.4" r="3.35" fill="#e377c2"/>
<circle cx="328.3" cy="341.1" r="3.35" fill="#e377c2"/>
<circle cx="328.8" cy="346.5" r="3.35" fill="#e377c2"/>
<circle cx="326.5" cy="350.5" r="3.35" fill="#e377c2"/>
<circle cx="320.3" cy="354.6" r="3.35" fill="#e377c2"/>
<circle cx="317.2" cy="357.1" r="3.35" fill="#e377c2"/>
<circle cx="321.3" cy="364.5" r="3.35" fill="#e377c2"/>
<circle cx="319.8" cy="370.1" r="3.35" fill="#e377c2"/>
<circle cx="318.9" cy="373.1" r="3.35" fill="#e377c2"/>
<circle cx="317.0" cy="377.9" r="3.35" fill="#e377c2"/>
<circle cx="315.9" cy="381.3" r="3.35" fill="#e377c2"/>
<circle cx="315.0" cy="387.9" r="3.35" fill="#e377c2"/>
<circle cx="315.6" cy="393.3" r="3.35" fill="#e377c2"/>
<circle cx="320.3" cy="395.7" r="3.35" fill="#e377c2"/>
<circle cx="327.3" cy="400.2" r="3.35" fill="#e377c2"/>
<circle cx="329.7" cy="402.3" r="3.35" fill="#e377c2"/>
<circle cx="333.5" cy="399.1" r="3.35" fill="#e377c2"/>
<circle cx="336.8" cy="400.6" r="3.35" fill="#e377c2"/>
<circle cx="341.1" cy="396.4" r="3.35" fill="#e377c2"/>
<circle cx="344.5" cy="393.0" r="3.35" fill="#e377c2"/>
<circle cx="348.5" cy="388.8" r="3.35" fill="#e377c2"/>
<circle cx="354.2" cy="387.0" r="3.35" fill="#e377c2"/>
<circle cx="355.6" cy="387.8" r="3.35" fill="#e377c2"/>
<circle cx="354.8" cy="381.4" r="3.35" fill="#e377c2"/>
<circle cx="354.6" cy="376.3" r="3.35" fill="#e377c2"/>
<circle cx="357.1" cy="370.4" r="3.35" fill="#e377c2"/>
<circle cx="356.8" cy="366.9" r="3.35" fill="#e377c2"/>
<circle cx="354.9" cy="362.6" r="3.35" fill="#e377c2"/>
<circle cx="355.8" cy="357.5" r="3.35" fill="#e377c2"/>
<circle cx="351.9" cy="352.2" r="3.35" fill="#e377c2"/>
<circle cx="353.9" cy="349.2" r="3.35" fill="#e377c2"/>
<circle cx="350.5" cy="343.3" r="3.35" fill="#e377c2"/>
<circle cx="352.2" cy="337.9" r="3.35" fill="#e377c2"/>
<circle cx="350.1" cy="332.6" r="3.35" fill="#e377c2"/>
<circle cx="345.1" cy="332.5" r="3.35" fill="#e377c2"/>
<circle cx="339.8" cy="331.7" r="3.35" fill="#e377c2"/>
<circle cx="335.4" cy="328.8" r="3.35" fill="#e377c2"/>
<circle cx="333.7" cy="323.6" r="3.35" fill="#e377c2"/>
<circle cx="334.0" cy="327.6" r="3.35" fill="#e377c2"/>
<circle cx="330.9" cy="328.5" r="3.35" fill="#e377c2"/>
<circle cx="333.5" cy="329.2" r="3.35" fill="#e377c2"/>
<circle cx="330.5" cy="332.7" r="3.35" fill="#e377c2"/>
<circle cx="332.1" cy="332.5" r="3.35" fill="#e377c2"/>
<circle cx="337.7" cy="333.5" r="3.35" fill="#e377c2"/>
<circle cx="350.4" cy="333.3" r="3.35" fill="#e377c2"/>
<circle cx="331.4" cy="334.7" r="3.35" fill="#e377c2"/>
<circle cx="333.8" cy="335.6" r="3.35" fill="#e377c2"/>
<circle cx="337.6" cy="336.0" r="3.35" fill="#e377c2"/>
<circle cx="340.3" cy="335.3" r="3.35" fill="#e377c2"/>
<circle cx="346.2" cy="336.0" r="3.35" fill="#e377c2"/>
<circle cx="347.8" cy="334.3" r="3.35" fill="#e377c2"/>
<circle cx="351.2" cy="335.5" r="3.35" fill="#e377c2"/>
<circle cx="329.6" cy="337.8" r="3.35" fill="#e377c2"/>
<circle cx="333.3" cy="336.9" r="3.35" fill="#e377c2"/>
<circle cx="336.4" cy="339.3" r="3.35" fill="#e377c2"/>
<circle cx="344.1" cy="338.0" r="3.35" fill="#e377c2"/>
<circle cx="347.3" cy="338.6" r="3.35" fill="#e377c2"/>
<circle cx="351.2" cy="337.9" r="3.35" fill="#e377c2"/>
<circle cx="331.4" cy="340.7" r="3.35" fill="#e377c2"/>
<circle cx="335.0" cy="342.0" r="3.35" fill="#e377c2"/>
<circle cx="337.0" cy="340.4" r="3.35" fill="#e377c2"/>
<circle cx="342.5" cy="341.9" r="3.35" fill="#e377c2"/>
<circle cx="345.4" cy="339.9" r="3.35" fill="#e377c2"/>
<circle cx="349.7" cy="342.5" r="3.35" fill="#e377c2"/>
<circle cx="350.6" cy="342.1" r="3.35" fill="#e377c2"/>
<circle cx="336.7" cy="344.8" r="3.35" fill="#e377c2"/>
<circle cx="340.9" cy="343.1" r="3.35" fill="#e377c2"/>
<circle cx="343.1" cy="343.6" r="3.35" fill="#e377c2"/>
<circle cx="347.0" cy="344.1" r="3.35" fill="#e377c2"/>
<circle cx="349.8" cy="342.9" r="3.35" fill="#e377c2"/>
<circle cx="332.0" cy="346.2" r="3.35" fill="#e377c2"/>
<circle cx="335.2" cy="345.9" r="3.35" fill="#e377c2"/>
<circle cx="338.7" cy="346.0" r="3.35" fill="#e377c2"/>
<circle cx="340.6" cy="347.3" r="3.35" fill="#e377c2"/>
<circle cx="344.3" cy="348.1" r="3.35" fill="#e377c2"/>
<circle cx="348.3" cy="346.6" r="3.35" fill="#e377c2"/>
<circle cx="329.3" cy="349.3" r="3.35" fill="#e377c2"/>
<circle cx="333.4" cy="349.6" r="3.35" fill="#e377c2"/>
<circle cx="335.5" cy="350.9" r="3.35" fill="#e377c2"/>
<circle cx="340.3" cy="350.9" r="3.35" fill="#e377c2"/>
<circle cx="343.1" cy="351.0" r="3.35" fill="#e377c2"/>
<circle cx="346.7" cy="350.3" r="3.35" fill="#e377c2"/>
<circle cx="327.1" cy="352.1" r="3.35" fill="#e377c2"/>
<circle cx="331.1" cy="354.0" r="3.35" fill="#e377c2"/>
<circle cx="334.1" cy="352.4" r="3.35" fill="#e377c2"/>
<circle cx="337.3" cy="352.4" r="3.35" fill="#e377c2"/>
<circle cx="340.9" cy="352.9" r="3.35" fill="#e377c2"/>
<circle cx="343.7" cy="354.1" r="3.35" fill="#e377c2"/>
<circle cx="348.0" cy="354.2" r="3.35" fill="#e377c2"/>
<circle cx="320.0" cy="356.6" r="3.35" fill="#e377c2"/>
<circle cx="322.1" cy="354.6" r="3.35" fill="#e377c2"/>
<circle cx="325.1" cy="355.7" r="3.35" fill="#e377c2"/>
<circle cx="329.3" cy="355.4" r="3.35" fill="#e377c2"/>
<circle cx="332.5" cy="356.6" r="3.35" fill="#e377c2"/>
<circle cx="337.1" cy="355.0" r="3.35" fill="#e377c2"/>
<circle cx="339.2" cy="356.4" r="3.35" fill="#e377c2"/>
<circle cx="344.5" cy="356.3" r="3.35" fill="#e377c2"/>
<circle cx="348.9" cy="356.7" r="3.35" fill="#e377c2"/>
<circle cx="352.3" cy="356.1" r="3.35" fill="#e377c2"/>
<circle cx="322.4" cy="357.7" r="3.35" fill="#e377c2"/>
<circle cx="327.3" cy="358.6" r="3.35" fill="#e377c2"/>
<circle cx="330.9" cy="357.7" r="3.35" fill="#e377c2"/>
<circle cx="333.5" cy="360.2" r="3.35" fill="#e377c2"/>
<circle cx="337.3" cy="358.9" r="3.35" fill="#e377c2"/>
<circle cx="341.3" cy="359.0" r="3.35" fill="#e377c2"/>
<circle cx="343.9" cy="358.4" r="3.35" fill="#e377c2"/>
<circle cx="347.3" cy="359.0" r="3.35" fill="#e377c2"/>
<circle cx="352.1" cy="359.9" r="3.35" fill="#e377c2"/>
<circle cx="353.9" cy="359.0" r="3.35" fill="#e377c2"/>
<circle cx="324.0" cy="361.3" r="3.35" fill="#e377c2"/>
<circle cx="327.2" cy="361.1" r="3.35" fill="#e377c2"/>
<circle cx="328.6" cy="361.3" r="3.35" fill="#e377c2"/>
<circle cx="332.0" cy="362.6" r="3.35" fill="#e377c2"/>
<circle cx="337.4" cy="361.3" r="3.35" fill="#e377c2"/>
<circle cx="338.9" cy="360.7" r="3.35" fill="#e377c2"/>
<circle cx="342.6" cy="360.7" r="3.35" fill="#e377c2"/>
<circle cx="346.5" cy="362.1" r="3.35" fill="#e377c2"/>
<circle cx="349.4" cy="360.7" r="3.35" fill="#e377c2"/>
<circle cx="352.3" cy="361.0" r="3.35" fill="#e377c2"/>
<circle cx="322.3" cy="365.2" r="3.35" fill="#e377c2"/>
<circle cx="324.8" cy="364.7" r="3.35" fill="#e377c2"/>
<circle cx="328.4" cy="366.1" r="3.35" fill="#e377c2"/>
<circle cx="332.0" cy="365.4" r="3.35" fill="#e377c2"/>
<circle cx="334.2" cy="365.7" r="3.35" fill="#e377c2"/>
<circle cx="337.9" cy="363.8" r="3.35" fill="#e377c2"/>
<circle cx="340.4" cy="363.9" r="3.35" fill="#e377c2"/>
<circle cx="344.3" cy="365.3" r="3.35" fill="#e377c2"/>
<circle cx="347.8" cy="363.6" r="3.35" fill="#e377c2"/>
<circle cx="354.0" cy="363.8" r="3.35" fill="#e377c2"/>
<circle cx="322.7" cy="367.4" r="3.35" fill="#e377c2"/>
<circle cx="325.0" cy="368.0" r="3.35" fill="#e377c2"/>
<circle cx="330.3" cy="366.7" r="3.35" fill="#e377c2"/>
<circle cx="333.2" cy="366.9" r="3.35" fill="#e377c2"/>
<circle cx="337.1" cy="367.6" r="3.35" fill="#e377c2"/>
<circle cx="341.1" cy="368.6" r="3.35" fill="#e377c2"/>
<circle cx="342.3" cy="367.3" r="3.35" fill="#e377c2"/>
<circle cx="347.8" cy="367.7" r="3.35" fill="#e377c2"/>
<circle cx="349.9" cy="367.6" r="3.35" fill="#e377c2"/>
<circle cx="354.2" cy="369.0" r="3.35" fill="#e377c2"/>
<circle cx="322.5" cy="369.5" r="3.35" fill="#e377c2"/>
<circle cx="324.5" cy="371.8" r="3.35" fill="#e377c2"/>
<circle cx="327.2" cy="370.1" r="3.35" fill="#e377c2"/>
<circle cx="330.6" cy="370.9" r="3.35" fill="#e377c2"/>
<circle cx="334.4" cy="371.4" r="3.35" fill="#e377c2"/>
<circle cx="337.5" cy="370.3" r="3.35" fill="#e377c2"/>
<circle cx="340.9" cy="372.0" r="3.35" fill="#e377c2"/>
<circle cx="345.9" cy="371.7" r="3.35" fill="#e377c2"/>
<circle cx="348.7" cy="370.5" r="3.35" fill="#e377c2"/>
<circle cx="350.8" cy="371.6" r="3.35" fill="#e377c2"/>
<circle cx="322.4" cy="374.2" r="3.35" fill="#e377c2"/>
<circle cx="326.6" cy="374.5" r="3.35" fill="#e377c2"/>
<circle cx="329.4" cy="372.4" r="3.35" fill="#e377c2"/>
<circle cx="333.1" cy="373.9" r="3.35" fill="#e377c2"/>
<circle cx="335.6" cy="373.4" r="3.35" fill="#e377c2"/>
<circle cx="339.4" cy="372.4" r="3.35" fill="#e377c2"/>
<circle cx="342.8" cy="373.4" r="3.35" fill="#e377c2"/>
<circle cx="346.6" cy="374.2" r="3.35" fill="#e377c2"/>
<circle cx="349.8" cy="375.0" r="3.35" fill="#e377c2"/>
<circle cx="354.6" cy="374.2" r="3.35" fill="#e377c2"/>
<circle cx="318.3" cy="376.7" r="3.35" fill="#e377c2"/>
<circle cx="320.0" cy="375.5" r="3.35" fill="#e377c2"/>
<circle cx="324.8" cy="377.4" r="3.35" fill="#e377c2"/>
<circle cx="328.6" cy="376.1" r="3.35" fill="#e377c2"/>
<circle cx="332.6" cy="376.0" r="3.35" fill="#e377c2"/>
<circle cx="335.4" cy="375.5" r="3.35" fill="#e377c2"/>
<circle cx="338.9" cy="377.1" r="3.35" fill="#e377c2"/>
<circle cx="342.8" cy="377.7" r="3.35" fill="#e377c2"/>
<circle cx="345.5" cy="377.6" r="3.35" fill="#e377c2"/>
<circle cx="349.0" cy="376.9" r="3.35" fill="#e377c2"/>
<circle cx="351.8" cy="377.7" r="3.35" fill="#e377c2"/>
<circle cx="315.8" cy="378.3" r="3.35" fill="#e377c2"/>
<circle cx="318.6" cy="380.0" r="3.35" fill="#e377c2"/>
<circle cx="324.0" cy="379.9" r="3.35" fill="#e377c2"/>
<circle cx="326.0" cy="378.5" r="3.35" fill="#e377c2"/>
<circle cx="330.2" cy="379.7" r="3.35" fill="#e377c2"/>
<circle cx="333.7" cy="379.3" r="3.35" fill="#e377c2"/>
<circle cx="337.5" cy="378.8" r="3.35" fill="#e377c2"/>
<circle cx="339.4" cy="379.0" r="3.35" fill="#e377c2"/>
<circle cx="343.6" cy="380.7" r="3.35" fill="#e377c2"/>
<circle cx="345.8" cy="380.0" r="3.35" fill="#e377c2"/>
<circle cx="353.7" cy="380.5" r="3.35" fill="#e377c2"/>
<circle cx="318.9" cy="382.0" r="3.35" fill="#e377c2"/>
<circle cx="321.5" cy="383.8" r="3.35" fill="#e377c2"/>
<circle cx="323.3" cy="381.5" r="3.35" fill="#e377c2"/>
<circle cx="328.2" cy="382.8" r="3.35" fill="#e377c2"/>
<circle cx="330.5" cy="381.7" r="3.35" fill="#e377c2"/>
<circle cx="335.1" cy="383.0" r="3.35" fill="#e377c2"/>
<circle cx="338.7" cy="383.2" r="3.35" fill="#e377c2"/>
<circle cx="340.4" cy="382.5" r="3.35" fill="#e377c2"/>
<circle cx="345.9" cy="383.8" r="3.35" fill="#e377c2"/>
<circle cx="349.3" cy="383.0" r="3.35" fill="#e377c2"/>
<circle cx="351.1" cy="383.1" r="3.35" fill="#e377c2"/>
<circle cx="318.4" cy="384.6" r="3.35" fill="#e377c2"/>
<circle cx="321.8" cy="386.2" r="3.35" fill="#e377c2"/>
<circle cx="327.2" cy="386.3" r="3.35" fill="#e377c2"/>
<circle cx="330.3" cy="386.7" r="3.35" fill="#e377c2"/>
<circle cx="334.3" cy="385.9" r="3.35" fill="#e377c2"/>
<circle cx="337.8" cy="384.4" r="3.35" fill="#e377c2"/>
<circle cx="338.8" cy="384.3" r="3.35" fill="#e377c2"/>
<circle cx="342.5" cy="385.2" r="3.35" fill="#e377c2"/>
<circle cx="346.6" cy="386.0" r="3.35" fill="#e377c2"/>
<circle cx="349.0" cy="385.3" r="3.35" fill="#e377c2"/>
<circle cx="353.2" cy="384.5" r="3.35" fill="#e377c2"/>
<circle cx="319.0" cy="387.3" r="3.35" fill="#e377c2"/>
<circle cx="321.8" cy="387.9" r="3.35" fill="#e377c2"/>
<circle cx="323.6" cy="388.4" r="3.35" fill="#e377c2"/>
<circle cx="327.6" cy="389.1" r="3.35" fill="#e377c2"/>
<circle cx="332.5" cy="388.2" r="3.35" fill="#e377c2"/>
<circle cx="334.2" cy="388.5" r="3.35" fill="#e377c2"/>
<circle cx="338.7" cy="389.3" r="3.35" fill="#e377c2"/>
<circle cx="341.0" cy="388.0" r="3.35" fill="#e377c2"/>
<circle cx="345.0" cy="387.3" r="3.35" fill="#e377c2"/>
<circle cx="351.2" cy="387.4" r="3.35" fill="#e377c2"/>
<circle cx="318.4" cy="391.0" r="3.35" fill="#e377c2"/>
<circle cx="321.5" cy="392.2" r="3.35" fill="#e377c2"/>
<circle cx="325.0" cy="390.8" r="3.35" fill="#e377c2"/>
<circle cx="329.6" cy="391.1" r="3.35" fill="#e377c2"/>
<circle cx="333.1" cy="390.2" r="3.35" fill="#e377c2"/>
<circle cx="335.7" cy="392.7" r="3.35" fill="#e377c2"/>
<circle cx="339.8" cy="390.3" r="3.35" fill="#e377c2"/>
<circle cx="321.0" cy="395.4" r="3.35" fill="#e377c2"/>
<circle cx="325.7" cy="394.1" r="3.35" fill="#e377c2"/>
<circle cx="328.7" cy="395.5" r="3.35" fill="#e377c2"/>
<circle cx="332.2" cy="394.2" r="3.35" fill="#e377c2"/>
<circle cx="336.1" cy="393.6" r="3.35" fill="#e377c2"/>
<circle cx="337.6" cy="394.3" r="3.35" fill="#e377c2"/>
<circle cx="342.0" cy="393.4" r="3.35" fill="#e377c2"/>
<circle cx="325.4" cy="397.2" r="3.35" fill="#e377c2"/>
<circle cx="330.4" cy="397.0" r="3.35" fill="#e377c2"/>
<circle cx="332.1" cy="397.4" r="3.35" fill="#e377c2"/>
<circle cx="333.5" cy="399.8" r="3.35" fill="#e377c2"/>
<circle cx="307.6" cy="329.0" r="3.35" fill="#e377c2"/>
<circle cx="324.4" cy="335.0" r="3.35" fill="#e377c2"/>
<circle cx="322.4" cy="341.6" r="3.35" fill="#e377c2"/>
<circle cx="312.0" cy="348.6" r="3.35" fill="#e377c2"/>
<circle cx="308.0" cy="352.0" r="3.35" fill="#e377c2"/>
<circle cx="305.0" cy="354.0" r="3.35" fill="#e377c2"/>
<circle cx="304.0" cy="360.6" r="3.35" fill="#e377c2"/>
<circle cx="311.4" cy="358.6" r="3.35" fill="#e377c2"/>
<circle cx="345.6" cy="322.4" r="3.35" fill="#e377c2"/>
<circle cx="358.0" cy="322.0" r="3.35" fill="#e377c2"/>
<circle cx="360.0" cy="363.0" r="3.35" fill="#e377c2"/>
<circle cx="311.0" cy="390.6" r="3.35" fill="#e377c2"/>
<circle cx="314.0" cy="409.4" r="3.35" fill="#e377c2"/>
<circle cx="321.4" cy="411.4" r="3.35" fill="#e377c2"/>
<circle cx="328.0" cy="416.0" r="3.35" fill="#e377c2"/>
<circle cx="332.4" cy="414.0" r="3.35" fill="#e377c2"/>
<circle cx="327.4" cy="313.4" r="3.35" fill="#e377c2"/>
<circle cx="357.6" cy="372.0" r="3.35" fill="#e377c2"/>
<circle cx="357.0" cy="389.0" r="3.35" fill="#e377c2"/>
<circle cx="349.0" cy="389.0" r="3.35" fill="#e377c2"/>
<circle cx="343.4" cy="394.6" r="3.35" fill="#e377c2"/>
<circle cx="338.0" cy="401.4" r="3.35" fill="#e377c2"/>
<circle cx="328.0" cy="404.4" r="3.35" fill="#e377c2"/>
<circle cx="332.8" cy="321.3" r="3.35" fill="#e377c2"/>
<circle cx="328.5" cy="325.1" r="3.35" fill="#e377c2"/>
<circle cx="336.6" cy="326.2" r="3.35" fill="#e377c2"/>
<circle cx="379.0" cy="392.6" r="3.35" fill="#8c564b"/>
<circle cx="369.0" cy="303.6" r="3.35" fill="#c49c94"/>
<circle cx="480.9" cy="146.8" r="3.35" fill="#c49c94"/>
<circle cx="483.7" cy="148.7" r="3.35" fill="#c49c94"/>
<circle cx="479.8" cy="153.9" r="3.35" fill="#c49c94"/>
<circle cx="479.0" cy="155.6" r="3.35" fill="#c49c94"/>
<circle cx="478.2" cy="159.0" r="3.35" fill="#c49c94"/>
<circle cx="474.8" cy="164.2" r="3.35" fill="#c49c94"/>
<circle cx="476.5" cy="169.5" r="3.35" fill="#c49c94"/>
<circle cx="476.9" cy="172.1" r="3.35" fill="#c49c94"/>
<circle cx="474.5" cy="176.0" r="3.35" fill="#c49c94"/>
<circle cx="473.6" cy="181.3" r="3.35" fill="#c49c94"/>
<circle cx="471.8" cy="188.3" r="3.35" fill="#c49c94"/>
<circle cx="471.2" cy="191.5" r="3.35" fill="#c49c94"/>
<circle cx="467.6" cy="196.7" r="3.35" fill="#c49c94"/>
<circle cx="468.5" cy="200.7" r="3.35" fill="#c49c94"/>
<circle cx="464.6" cy="207.0" r="3.35" fill="#c49c94"/>
<circle cx="465.0" cy="210.5" r="3.35" fill="#c49c94"/>
<circle cx="471.2" cy="211.1" r="3.35" fill="#c49c94"/>
<circle cx="476.0" cy="215.4" r="3.35" fill="#c49c94"/>
<circle cx="477.7" cy="220.5" r="3.35" fill="#c49c94"/>
<circle cx="481.7" cy="218.9" r="3.35" fill="#c49c94"/>
<circle cx="487.2" cy="219.9" r="3.35" fill="#c49c94"/>
<circle cx="490.2" cy="217.7" r="3.35" fill="#c49c94"/>
<circle cx="495.8" cy="212.9" r="3.35" fill="#c49c94"/>
<circle cx="497.6" cy="208.7" r="3.35" fill="#c49c94"/>
<circle cx="501.5" cy="207.8" r="3.35" fill="#c49c94"/>
<circle cx="505.1" cy="206.7" r="3.35" fill="#c49c94"/>
<circle cx="505.7" cy="203.8" r="3.35" fill="#c49c94"/>
<circle cx="506.0" cy="200.3" r="3.35" fill="#c49c94"/>
<circle cx="506.5" cy="194.2" r="3.35" fill="#c49c94"/>
<circle cx="508.2" cy="188.8" r="3.35" fill="#c49c94"/>
<circle cx="510.4" cy="184.4" r="3.35" fill="#c49c94"/>
<circle cx="509.4" cy="181.1" r="3.35" fill="#c49c94"/>
<circle cx="507.2" cy="176.2" r="3.35" fill="#c49c94"/>
<circle cx="504.6" cy="172.7" r="3.35" fill="#c49c94"/>
<circle cx="505.0" cy="166.9" r="3.35" fill="#c49c94"/>
<circle cx="501.1" cy="161.8" r="3.35" fill="#c49c94"/>
<circle cx="503.6" cy="156.2" r="3.35" fill="#c49c94"/>
<circle cx="500.4" cy="153.9" r="3.35" fill="#c49c94"/>
<circle cx="497.2" cy="153.4" r="3.35" fill="#c49c94"/>
<circle cx="490.7" cy="148.9" r="3.35" fill="#c49c94"/>
<circle cx="487.1" cy="148.4" r="3.35" fill="#c49c94"/>
<circle cx="485.5" cy="141.6" r="3.35" fill="#c49c94"/>
<circle cx="484.2" cy="142.8" r="3.35" fill="#c49c94"/>
<circle cx="483.5" cy="144.1" r="3.35" fill="#c49c94"/>
<circle cx="483.9" cy="148.3" r="3.35" fill="#c49c94"/>
<circle cx="486.7" cy="151.2" r="3.35" fill="#c49c94"/>
<circle cx="488.8" cy="150.0" r="3.35" fill="#c49c94"/>
<circle cx="481.6" cy="154.1" r="3.35" fill="#c49c94"/>
<circle cx="483.6" cy="153.7" r="3.35" fill="#c49c94"/>
<circle cx="489.6" cy="154.9" r="3.35" fill="#c49c94"/>
<circle cx="491.2" cy="153.7" r="3.35" fill="#c49c94"/>
<circle cx="495.5" cy="153.3" r="3.35" fill="#c49c94"/>
<circle cx="497.7" cy="154.4" r="3.35" fill="#c49c94"/>
<circle cx="479.9" cy="155.9" r="3.35" fill="#c49c94"/>
<circle cx="484.5" cy="156.4" r="3.35" fill="#c49c94"/>
<circle cx="487.5" cy="157.8" r="3.35" fill="#c49c94"/>
<circle cx="494.1" cy="155.5" r="3.35" fill="#c49c94"/>
<circle cx="499.3" cy="155.7" r="3.35" fill="#c49c94"/>
<circle cx="482.0" cy="158.8" r="3.35" fill="#c49c94"/>
<circle cx="484.0" cy="159.3" r="3.35" fill="#c49c94"/>
<circle cx="487.6" cy="160.0" r="3.35" fill="#c49c94"/>
<circle cx="490.9" cy="159.3" r="3.35" fill="#c49c94"/>
<circle cx="495.8" cy="160.7" r="3.35" fill="#c49c94"/>
<circle cx="502.0" cy="160.9" r="3.35" fill="#c49c94"/>
<circle cx="476.7" cy="163.9" r="3.35" fill="#c49c94"/>
<circle cx="479.8" cy="163.3" r="3.35" fill="#c49c94"/>
<circle cx="484.5" cy="161.4" r="3.35" fill="#c49c94"/>
<circle cx="487.3" cy="161.8" r="3.35" fill="#c49c94"/>
<circle cx="489.5" cy="163.8" r="3.35" fill="#c49c94"/>
<circle cx="494.3" cy="161.8" r="3.35" fill="#c49c94"/>
<circle cx="498.0" cy="161.8" r="3.35" fill="#c49c94"/>
<circle cx="500.1" cy="163.7" r="3.35" fill="#c49c94"/>
<circle cx="477.6" cy="164.2" r="3.35" fill="#c49c94"/>
<circle cx="480.4" cy="166.7" r="3.35" fill="#c49c94"/>
<circle cx="485.5" cy="166.5" r="3.35" fill="#c49c94"/>
<circle cx="487.3" cy="166.2" r="3.35" fill="#c49c94"/>
<circle cx="491.3" cy="166.2" r="3.35" fill="#c49c94"/>
<circle cx="495.7" cy="166.3" r="3.35" fill="#c49c94"/>
<circle cx="499.7" cy="166.6" r="3.35" fill="#c49c94"/>
<circle cx="480.6" cy="169.2" r="3.35" fill="#c49c94"/>
<circle cx="483.7" cy="167.8" r="3.35" fill="#c49c94"/>
<circle cx="487.6" cy="169.2" r="3.35" fill="#c49c94"/>
<circle cx="490.0" cy="167.8" r="3.35" fill="#c49c94"/>
<circle cx="494.7" cy="169.7" r="3.35" fill="#c49c94"/>
<circle cx="496.9" cy="169.3" r="3.35" fill="#c49c94"/>
<circle cx="500.3" cy="167.8" r="3.35" fill="#c49c94"/>
<circle cx="503.1" cy="169.4" r="3.35" fill="#c49c94"/>
<circle cx="481.9" cy="171.3" r="3.35" fill="#c49c94"/>
<circle cx="485.2" cy="170.4" r="3.35" fill="#c49c94"/>
<circle cx="488.9" cy="172.7" r="3.35" fill="#c49c94"/>
<circle cx="490.5" cy="172.5" r="3.35" fill="#c49c94"/>
<circle cx="494.3" cy="171.2" r="3.35" fill="#c49c94"/>
<circle cx="497.7" cy="172.7" r="3.35" fill="#c49c94"/>
<circle cx="500.7" cy="171.9" r="3.35" fill="#c49c94"/>
<circle cx="477.6" cy="173.2" r="3.35" fill="#c49c94"/>
<circle cx="483.6" cy="173.2" r="3.35" fill="#c49c94"/>
<circle cx="485.5" cy="174.9" r="3.35" fill="#c49c94"/>
<circle cx="489.6" cy="173.2" r="3.35" fill="#c49c94"/>
<circle cx="494.0" cy="174.0" r="3.35" fill="#c49c94"/>
<circle cx="496.5" cy="174.9" r="3.35" fill="#c49c94"/>
<circle cx="475.3" cy="176.0" r="3.35" fill="#c49c94"/>
<circle cx="480.8" cy="176.5" r="3.35" fill="#c49c94"/>
<circle cx="485.6" cy="178.4" r="3.35" fill="#c49c94"/>
<circle cx="487.3" cy="178.3" r="3.35" fill="#c49c94"/>
<circle cx="492.5" cy="177.6" r="3.35" fill="#c49c94"/>
<circle cx="496.2" cy="178.4" r="3.35" fill="#c49c94"/>
<circle cx="498.4" cy="177.5" r="3.35" fill="#c49c94"/>
<circle cx="501.8" cy="178.6" r="3.35" fill="#c49c94"/>
<circle cx="506.1" cy="177.4" r="3.35" fill="#c49c94"/>
<circle cx="473.9" cy="181.3" r="3.35" fill="#c49c94"/>
<circle cx="475.6" cy="179.0" r="3.35" fill="#c49c94"/>
<circle cx="481.1" cy="181.0" r="3.35" fill="#c49c94"/>
<circle cx="484.3" cy="179.0" r="3.35" fill="#c49c94"/>
<circle cx="486.1" cy="181.1" r="3.35" fill="#c49c94"/>
<circle cx="490.4" cy="181.6" r="3.35" fill="#c49c94"/>
<circle cx="493.2" cy="179.8" r="3.35" fill="#c49c94"/>
<circle cx="496.9" cy="180.5" r="3.35" fill="#c49c94"/>
<circle cx="500.4" cy="179.1" r="3.35" fill="#c49c94"/>
<circle cx="502.7" cy="179.7" r="3.35" fill="#c49c94"/>
<circle cx="506.3" cy="180.2" r="3.35" fill="#c49c94"/>
<circle cx="476.8" cy="183.9" r="3.35" fill="#c49c94"/>
<circle cx="481.6" cy="184.6" r="3.35" fill="#c49c94"/>
<circle cx="484.0" cy="182.4" r="3.35" fill="#c49c94"/>
<circle cx="488.4" cy="183.0" r="3.35" fill="#c49c94"/>
<circle cx="492.0" cy="182.0" r="3.35" fill="#c49c94"/>
<circle cx="495.9" cy="182.5" r="3.35" fill="#c49c94"/>
<circle cx="499.1" cy="182.6" r="3.35" fill="#c49c94"/>
<circle cx="503.0" cy="183.3" r="3.35" fill="#c49c94"/>
<circle cx="506.4" cy="184.1" r="3.35" fill="#c49c94"/>
<circle cx="471.7" cy="186.3" r="3.35" fill="#c49c94"/>
<circle cx="477.1" cy="187.1" r="3.35" fill="#c49c94"/>
<circle cx="478.7" cy="186.0" r="3.35" fill="#c49c94"/>
<circle cx="482.7" cy="187.2" r="3.35" fill="#c49c94"/>
<circle cx="485.8" cy="185.9" r="3.35" fill="#c49c94"/>
<circle cx="489.0" cy="185.4" r="3.35" fill="#c49c94"/>
<circle cx="494.6" cy="187.2" r="3.35" fill="#c49c94"/>
<circle cx="496.2" cy="185.4" r="3.35" fill="#c49c94"/>
<circle cx="500.1" cy="185.3" r="3.35" fill="#c49c94"/>
<circle cx="504.1" cy="187.3" r="3.35" fill="#c49c94"/>
<circle cx="507.9" cy="186.9" r="3.35" fill="#c49c94"/>
<circle cx="509.2" cy="185.4" r="3.35" fill="#c49c94"/>
<circle cx="472.5" cy="190.3" r="3.35" fill="#c49c94"/>
<circle cx="478.4" cy="190.0" r="3.35" fill="#c49c94"/>
<circle cx="481.5" cy="189.9" r="3.35" fill="#c49c94"/>
<circle cx="484.9" cy="189.4" r="3.35" fill="#c49c94"/>
<circle cx="489.6" cy="190.2" r="3.35" fill="#c49c94"/>
<circle cx="490.8" cy="188.4" r="3.35" fill="#c49c94"/>
<circle cx="496.1" cy="190.4" r="3.35" fill="#c49c94"/>
<circle cx="497.7" cy="188.4" r="3.35" fill="#c49c94"/>
<circle cx="504.7" cy="188.9" r="3.35" fill="#c49c94"/>
<circle cx="474.0" cy="192.4" r="3.35" fill="#c49c94"/>
<circle cx="475.5" cy="191.1" r="3.35" fill="#c49c94"/>
<circle cx="480.1" cy="193.1" r="3.35" fill="#c49c94"/>
<circle cx="483.0" cy="192.7" r="3.35" fill="#c49c94"/>
<circle cx="487.0" cy="193.4" r="3.35" fill="#c49c94"/>
<circle cx="489.2" cy="191.6" r="3.35" fill="#c49c94"/>
<circle cx="494.0" cy="191.7" r="3.35" fill="#c49c94"/>
<circle cx="495.6" cy="193.3" r="3.35" fill="#c49c94"/>
<circle cx="499.8" cy="191.7" r="3.35" fill="#c49c94"/>
<circle cx="503.4" cy="192.2" r="3.35" fill="#c49c94"/>
<circle cx="470.3" cy="194.3" r="3.35" fill="#c49c94"/>
<circle cx="475.0" cy="196.4" r="3.35" fill="#c49c94"/>
<circle cx="476.9" cy="196.1" r="3.35" fill="#c49c94"/>
<circle cx="481.7" cy="195.1" r="3.35" fill="#c49c94"/>
<circle cx="483.9" cy="194.6" r="3.35" fill="#c49c94"/>
<circle cx="489.3" cy="195.2" r="3.35" fill="#c49c94"/>
<circle cx="490.3" cy="195.3" r="3.35" fill="#c49c94"/>
<circle cx="495.9" cy="196.1" r="3.35" fill="#c49c94"/>
<circle cx="497.9" cy="194.6" r="3.35" fill="#c49c94"/>
<circle cx="502.5" cy="195.2" r="3.35" fill="#c49c94"/>
<circle cx="470.7" cy="198.3" r="3.35" fill="#c49c94"/>
<circle cx="474.1" cy="199.2" r="3.35" fill="#c49c94"/>
<circle cx="476.1" cy="198.8" r="3.35" fill="#c49c94"/>
<circle cx="480.4" cy="196.8" r="3.35" fill="#c49c94"/>
<circle cx="482.3" cy="198.2" r="3.35" fill="#c49c94"/>
<circle cx="487.9" cy="197.3" r="3.35" fill="#c49c94"/>
<circle cx="491.2" cy="197.5" r="3.35" fill="#c49c94"/>
<circle cx="492.7" cy="198.3" r="3.35" fill="#c49c94"/>
<circle cx="496.4" cy="198.2" r="3.35" fill="#c49c94"/>
<circle cx="499.4" cy="196.9" r="3.35" fill="#c49c94"/>
<circle cx="472.4" cy="200.8" r="3.35" fill="#c49c94"/>
<circle cx="474.8" cy="201.8" r="3.35" fill="#c49c94"/>
<circle cx="476.9" cy="201.6" r="3.35" fill="#c49c94"/>
<circle cx="482.5" cy="202.0" r="3.35" fill="#c49c94"/>
<circle cx="485.3" cy="200.7" r="3.35" fill="#c49c94"/>
<circle cx="488.6" cy="200.9" r="3.35" fill="#c49c94"/>
<circle cx="491.9" cy="202.1" r="3.35" fill="#c49c94"/>
<circle cx="494.2" cy="201.6" r="3.35" fill="#c49c94"/>
<circle cx="497.4" cy="200.1" r="3.35" fill="#c49c94"/>
<circle cx="501.9" cy="202.2" r="3.35" fill="#c49c94"/>
<circle cx="469.4" cy="204.7" r="3.35" fill="#c49c94"/>
<circle cx="474.3" cy="202.9" r="3.35" fill="#c49c94"/>
<circle cx="476.3" cy="202.6" r="3.35" fill="#c49c94"/>
<circle cx="479.7" cy="204.3" r="3.35" fill="#c49c94"/>
<circle cx="484.5" cy="203.6" r="3.35" fill="#c49c94"/>
<circle cx="487.7" cy="203.8" r="3.35" fill="#c49c94"/>
<circle cx="489.8" cy="204.1" r="3.35" fill="#c49c94"/>
<circle cx="492.9" cy="204.5" r="3.35" fill="#c49c94"/>
<circle cx="497.7" cy="205.1" r="3.35" fill="#c49c94"/>
<circle cx="500.1" cy="204.4" r="3.35" fill="#c49c94"/>
<circle cx="503.8" cy="204.3" r="3.35" fill="#c49c94"/>
<circle cx="468.9" cy="206.3" r="3.35" fill="#c49c94"/>
<circle cx="472.4" cy="206.8" r="3.35" fill="#c49c94"/>
<circle cx="473.6" cy="206.7" r="3.35" fill="#c49c94"/>
<circle cx="476.9" cy="206.5" r="3.35" fill="#c49c94"/>
<circle cx="482.4" cy="208.2" r="3.35" fill="#c49c94"/>
<circle cx="485.8" cy="208.1" r="3.35" fill="#c49c94"/>
<circle cx="487.0" cy="207.5" r="3.35" fill="#c49c94"/>
<circle cx="490.6" cy="207.9" r="3.35" fill="#c49c94"/>
<circle cx="494.7" cy="206.7" r="3.35" fill="#c49c94"/>
<circle cx="497.2" cy="205.9" r="3.35" fill="#c49c94"/>
<circle cx="502.8" cy="206.1" r="3.35" fill="#c49c94"/>
<circle cx="466.6" cy="209.6" r="3.35" fill="#c49c94"/>
<circle cx="470.2" cy="210.0" r="3.35" fill="#c49c94"/>
<circle cx="474.1" cy="209.7" r="3.35" fill="#c49c94"/>
<circle cx="477.4" cy="210.6" r="3.35" fill="#c49c94"/>
<circle cx="480.0" cy="209.6" r="3.35" fill="#c49c94"/>
<circle cx="482.6" cy="210.1" r="3.35" fill="#c49c94"/>
<circle cx="486.9" cy="210.2" r="3.35" fill="#c49c94"/>
<circle cx="490.8" cy="210.7" r="3.35" fill="#c49c94"/>
<circle cx="493.7" cy="211.1" r="3.35" fill="#c49c94"/>
<circle cx="472.0" cy="211.8" r="3.35" fill="#c49c94"/>
<circle cx="482.5" cy="213.4" r="3.35" fill="#c49c94"/>
<circle cx="483.6" cy="211.5" r="3.35" fill="#c49c94"/>
<circle cx="487.0" cy="211.7" r="3.35" fill="#c49c94"/>
<circle cx="493.0" cy="211.9" r="3.35" fill="#c49c94"/>
<circle cx="494.5" cy="212.1" r="3.35" fill="#c49c94"/>
<circle cx="475.8" cy="214.5" r="3.35" fill="#c49c94"/>
<circle cx="479.3" cy="214.5" r="3.35" fill="#c49c94"/>
<circle cx="482.7" cy="214.9" r="3.35" fill="#c49c94"/>
<circle cx="485.5" cy="216.7" r="3.35" fill="#c49c94"/>
<circle cx="485.8" cy="217.6" r="3.35" fill="#c49c94"/>
<circle cx="487.5" cy="217.9" r="3.35" fill="#c49c94"/>
<circle cx="452.6" cy="132.6" r="3.35" fill="#c49c94"/>
<circle cx="478.4" cy="132.0" r="3.35" fill="#c49c94"/>
<circle cx="497.4" cy="141.0" r="3.35" fill="#c49c94"/>
<circle cx="509.2" cy="141.0" r="3.35" fill="#c49c94"/>
<circle cx="458.6" cy="149.0" r="3.35" fill="#c49c94"/>
<circle cx="475.6" cy="154.4" r="3.35" fill="#c49c94"/>
<circle cx="463.0" cy="167.6" r="3.35" fill="#c49c94"/>
<circle cx="459.0" cy="171.0" r="3.35" fill="#c49c94"/>
<circle cx="457.0" cy="174.0" r="3.35" fill="#c49c94"/>
<circle cx="456.0" cy="179.4" r="3.35" fill="#c49c94"/>
<circle cx="463.0" cy="175.0" r="3.35" fill="#c49c94"/>
<circle cx="469.0" cy="174.0" r="3.35" fill="#c49c94"/>
<circle cx="511.4" cy="182.4" r="3.35" fill="#c49c94"/>
<circle cx="508.6" cy="190.4" r="3.35" fill="#c49c94"/>
<circle cx="508.0" cy="207.4" r="3.35" fill="#c49c94"/>
<circle cx="501.0" cy="207.4" r="3.35" fill="#c49c94"/>
<circle cx="463.6" cy="209.0" r="3.35" fill="#c49c94"/>
<circle cx="466.0" cy="196.0" r="3.35" fill="#c49c94"/>
<circle cx="466.0" cy="199.0" r="3.35" fill="#c49c94"/>
<circle cx="506.6" cy="175.0" r="3.35" fill="#c49c94"/>
<circle cx="503.6" cy="151.6" r="3.35" fill="#c49c94"/>
<circle cx="424.6" cy="261.0" r="3.35" fill="#c49c94"/>
<circle cx="453.6" cy="268.0" r="3.35" fill="#c49c94"/>
<circle cx="466.0" cy="228.4" r="3.35" fill="#c49c94"/>
<circle cx="473.0" cy="229.6" r="3.35" fill="#c49c94"/>
<circle cx="480.0" cy="234.0" r="3.35" fill="#c49c94"/>
<circle cx="484.0" cy="232.0" r="3.35" fill="#c49c94"/>
<circle cx="480.0" cy="223.0" r="3.35" fill="#c49c94"/>
<circle cx="489.0" cy="220.0" r="3.35" fill="#c49c94"/>
<circle cx="485.0" cy="222.0" r="3.35" fill="#c49c94"/>
<circle cx="491.0" cy="218.0" r="3.35" fill="#c49c94"/>
<circle cx="496.0" cy="213.0" r="3.35" fill="#c49c94"/>
<circle cx="474.0" cy="216.0" r="3.35" fill="#c49c94"/>
<circle cx="470.0" cy="213.0" r="3.35" fill="#c49c94"/>
<circle cx="492.0" cy="234.4" r="3.35" fill="#8c564b"/>
<circle cx="493.2" cy="240.9" r="3.35" fill="#8c564b"/>
<circle cx="493.0" cy="245.6" r="3.35" fill="#8c564b"/>
<circle cx="489.7" cy="248.6" r="3.35" fill="#8c564b"/>
<circle cx="486.6" cy="251.2" r="3.35" fill="#8c564b"/>
<circle cx="487.3" cy="256.1" r="3.35" fill="#8c564b"/>
<circle cx="485.5" cy="260.5" r="3.35" fill="#8c564b"/>
<circle cx="482.4" cy="267.0" r="3.35" fill="#8c564b"/>
<circle cx="481.2" cy="270.8" r="3.35" fill="#8c564b"/>
<circle cx="480.3" cy="276.0" r="3.35" fill="#8c564b"/>
<circle cx="481.1" cy="281.2" r="3.35" fill="#8c564b"/>
<circle cx="477.0" cy="285.8" r="3.35" fill="#8c564b"/>
<circle cx="478.3" cy="288.9" r="3.35" fill="#8c564b"/>
<circle cx="477.0" cy="294.9" r="3.35" fill="#8c564b"/>
<circle cx="479.6" cy="298.6" r="3.35" fill="#8c564b"/>
<circle cx="481.6" cy="302.0" r="3.35" fill="#8c564b"/>
<circle cx="484.7" cy="305.4" r="3.35" fill="#8c564b"/>
<circle cx="488.4" cy="310.3" r="3.35" fill="#8c564b"/>
<circle cx="494.2" cy="305.6" r="3.35" fill="#8c564b"/>
<circle cx="496.8" cy="309.2" r="3.35" fill="#8c564b"/>
<circle cx="500.8" cy="306.4" r="3.35" fill="#8c564b"/>
<circle cx="502.4" cy="301.8" r="3.35" fill="#8c564b"/>
<circle cx="504.5" cy="294.6" r="3.35" fill="#8c564b"/>
<circle cx="506.3" cy="296.2" r="3.35" fill="#8c564b"/>
<circle cx="513.5" cy="295.6" r="3.35" fill="#8c564b"/>
<circle cx="515.2" cy="291.7" r="3.35" fill="#8c564b"/>
<circle cx="516.1" cy="284.9" r="3.35" fill="#8c564b"/>
<circle cx="517.6" cy="280.0" r="3.35" fill="#8c564b"/>
<circle cx="516.9" cy="276.3" r="3.35" fill="#8c564b"/>
<circle cx="519.2" cy="269.9" r="3.35" fill="#8c564b"/>
<circle cx="515.4" cy="269.1" r="3.35" fill="#8c564b"/>
<circle cx="516.5" cy="265.9" r="3.35" fill="#8c564b"/>
<circle cx="512.8" cy="259.1" r="3.35" fill="#8c564b"/>
<circle cx="514.1" cy="252.5" r="3.35" fill="#8c564b"/>
<circle cx="512.5" cy="250.0" r="3.35" fill="#8c564b"/>
<circle cx="509.8" cy="245.7" r="3.35" fill="#8c564b"/>
<circle cx="510.5" cy="244.0" r="3.35" fill="#8c564b"/>
<circle cx="506.9" cy="242.3" r="3.35" fill="#8c564b"/>
<circle cx="501.3" cy="240.6" r="3.35" fill="#8c564b"/>
<circle cx="496.3" cy="237.7" r="3.35" fill="#8c564b"/>
<circle cx="495.1" cy="231.9" r="3.35" fill="#8c564b"/>
<circle cx="493.6" cy="232.2" r="3.35" fill="#8c564b"/>
<circle cx="494.5" cy="234.1" r="3.35" fill="#8c564b"/>
<circle cx="493.1" cy="237.3" r="3.35" fill="#8c564b"/>
<circle cx="494.8" cy="236.5" r="3.35" fill="#8c564b"/>
<circle cx="494.9" cy="239.9" r="3.35" fill="#8c564b"/>
<circle cx="501.7" cy="241.5" r="3.35" fill="#8c564b"/>
<circle cx="493.6" cy="242.2" r="3.35" fill="#8c564b"/>
<circle cx="494.7" cy="242.3" r="3.35" fill="#8c564b"/>
<circle cx="502.2" cy="244.7" r="3.35" fill="#8c564b"/>
<circle cx="505.3" cy="242.8" r="3.35" fill="#8c564b"/>
<circle cx="510.4" cy="243.4" r="3.35" fill="#8c564b"/>
<circle cx="493.2" cy="247.1" r="3.35" fill="#8c564b"/>
<circle cx="498.0" cy="246.0" r="3.35" fill="#8c564b"/>
<circle cx="500.0" cy="246.2" r="3.35" fill="#8c564b"/>
<circle cx="503.3" cy="247.4" r="3.35" fill="#8c564b"/>
<circle cx="508.3" cy="245.6" r="3.35" fill="#8c564b"/>
<circle cx="493.5" cy="248.1" r="3.35" fill="#8c564b"/>
<circle cx="497.0" cy="248.4" r="3.35" fill="#8c564b"/>
<circle cx="500.2" cy="250.2" r="3.35" fill="#8c564b"/>
<circle cx="503.2" cy="250.5" r="3.35" fill="#8c564b"/>
<circle cx="505.9" cy="249.4" r="3.35" fill="#8c564b"/>
<circle cx="509.5" cy="248.8" r="3.35" fill="#8c564b"/>
<circle cx="486.4" cy="250.9" r="3.35" fill="#8c564b"/>
<circle cx="490.6" cy="253.4" r="3.35" fill="#8c564b"/>
<circle cx="493.0" cy="252.8" r="3.35" fill="#8c564b"/>
<circle cx="498.9" cy="251.6" r="3.35" fill="#8c564b"/>
<circle cx="500.2" cy="253.4" r="3.35" fill="#8c564b"/>
<circle cx="504.8" cy="252.3" r="3.35" fill="#8c564b"/>
<circle cx="507.0" cy="252.1" r="3.35" fill="#8c564b"/>
<circle cx="510.6" cy="253.1" r="3.35" fill="#8c564b"/>
<circle cx="490.4" cy="254.7" r="3.35" fill="#8c564b"/>
<circle cx="491.8" cy="254.4" r="3.35" fill="#8c564b"/>
<circle cx="496.5" cy="254.2" r="3.35" fill="#8c564b"/>
<circle cx="500.7" cy="256.5" r="3.35" fill="#8c564b"/>
<circle cx="503.6" cy="253.9" r="3.35" fill="#8c564b"/>
<circle cx="506.5" cy="256.2" r="3.35" fill="#8c564b"/>
<circle cx="509.3" cy="254.0" r="3.35" fill="#8c564b"/>
<circle cx="512.6" cy="255.2" r="3.35" fill="#8c564b"/>
<circle cx="491.9" cy="257.4" r="3.35" fill="#8c564b"/>
<circle cx="493.8" cy="257.0" r="3.35" fill="#8c564b"/>
<circle cx="498.0" cy="257.5" r="3.35" fill="#8c564b"/>
<circle cx="501.8" cy="257.0" r="3.35" fill="#8c564b"/>
<circle cx="505.3" cy="257.2" r="3.35" fill="#8c564b"/>
<circle cx="508.1" cy="257.9" r="3.35" fill="#8c564b"/>
<circle cx="511.6" cy="257.0" r="3.35" fill="#8c564b"/>
<circle cx="489.7" cy="261.1" r="3.35" fill="#8c564b"/>
<circle cx="493.1" cy="261.1" r="3.35" fill="#8c564b"/>
<circle cx="497.0" cy="261.8" r="3.35" fill="#8c564b"/>
<circle cx="499.5" cy="262.0" r="3.35" fill="#8c564b"/>
<circle cx="501.4" cy="261.6" r="3.35" fill="#8c564b"/>
<circle cx="506.9" cy="261.7" r="3.35" fill="#8c564b"/>
<circle cx="511.7" cy="261.5" r="3.35" fill="#8c564b"/>
<circle cx="486.3" cy="265.2" r="3.35" fill="#8c564b"/>
<circle cx="489.7" cy="264.1" r="3.35" fill="#8c564b"/>
<circle cx="494.2" cy="264.9" r="3.35" fill="#8c564b"/>
<circle cx="498.6" cy="263.3" r="3.35" fill="#8c564b"/>
<circle cx="501.7" cy="263.3" r="3.35" fill="#8c564b"/>
<circle cx="504.8" cy="264.0" r="3.35" fill="#8c564b"/>
<circle cx="508.8" cy="262.9" r="3.35" fill="#8c564b"/>
<circle cx="515.0" cy="263.2" r="3.35" fill="#8c564b"/>
<circle cx="484.6" cy="266.3" r="3.35" fill="#8c564b"/>
<circle cx="489.7" cy="266.4" r="3.35" fill="#8c564b"/>
<circle cx="493.2" cy="268.4" r="3.35" fill="#8c564b"/>
<circle cx="496.1" cy="266.5" r="3.35" fill="#8c564b"/>
<circle cx="498.2" cy="267.0" r="3.35" fill="#8c564b"/>
<circle cx="502.1" cy="265.9" r="3.35" fill="#8c564b"/>
<circle cx="506.1" cy="268.4" r="3.35" fill="#8c564b"/>
<circle cx="510.9" cy="266.7" r="3.35" fill="#8c564b"/>
<circle cx="483.0" cy="269.6" r="3.35" fill="#8c564b"/>
<circle cx="488.4" cy="269.7" r="3.35" fill="#8c564b"/>
<circle cx="492.0" cy="270.5" r="3.35" fill="#8c564b"/>
<circle cx="494.0" cy="270.6" r="3.35" fill="#8c564b"/>
<circle cx="497.4" cy="269.6" r="3.35" fill="#8c564b"/>
<circle cx="500.0" cy="269.5" r="3.35" fill="#8c564b"/>
<circle cx="503.9" cy="269.5" r="3.35" fill="#8c564b"/>
<circle cx="507.5" cy="271.2" r="3.35" fill="#8c564b"/>
<circle cx="510.4" cy="268.7" r="3.35" fill="#8c564b"/>
<circle cx="514.0" cy="268.8" r="3.35" fill="#8c564b"/>
<circle cx="486.1" cy="272.0" r="3.35" fill="#8c564b"/>
<circle cx="488.9" cy="272.4" r="3.35" fill="#8c564b"/>
<circle cx="493.3" cy="273.7" r="3.35" fill="#8c564b"/>
<circle cx="495.7" cy="271.7" r="3.35" fill="#8c564b"/>
<circle cx="500.0" cy="272.7" r="3.35" fill="#8c564b"/>
<circle cx="503.7" cy="273.1" r="3.35" fill="#8c564b"/>
<circle cx="505.3" cy="271.8" r="3.35" fill="#8c564b"/>
<circle cx="510.7" cy="272.7" r="3.35" fill="#8c564b"/>
<circle cx="511.9" cy="273.9" r="3.35" fill="#8c564b"/>
<circle cx="484.7" cy="276.3" r="3.35" fill="#8c564b"/>
<circle cx="486.7" cy="275.9" r="3.35" fill="#8c564b"/>
<circle cx="489.8" cy="276.3" r="3.35" fill="#8c564b"/>
<circle cx="493.1" cy="275.9" r="3.35" fill="#8c564b"/>
<circle cx="498.5" cy="276.0" r="3.35" fill="#8c564b"/>
<circle cx="500.9" cy="275.4" r="3.35" fill="#8c564b"/>
<circle cx="505.1" cy="275.7" r="3.35" fill="#8c564b"/>
<circle cx="508.0" cy="275.2" r="3.35" fill="#8c564b"/>
<circle cx="510.3" cy="276.1" r="3.35" fill="#8c564b"/>
<circle cx="514.1" cy="275.5" r="3.35" fill="#8c564b"/>
<circle cx="485.7" cy="279.1" r="3.35" fill="#8c564b"/>
<circle cx="489.6" cy="278.9" r="3.35" fill="#8c564b"/>
<circle cx="493.3" cy="279.8" r="3.35" fill="#8c564b"/>
<circle cx="494.8" cy="279.9" r="3.35" fill="#8c564b"/>
<circle cx="499.0" cy="279.3" r="3.35" fill="#8c564b"/>
<circle cx="502.5" cy="278.3" r="3.35" fill="#8c564b"/>
<circle cx="507.0" cy="280.1" r="3.35" fill="#8c564b"/>
<circle cx="508.5" cy="278.7" r="3.35" fill="#8c564b"/>
<circle cx="513.6" cy="279.7" r="3.35" fill="#8c564b"/>
<circle cx="516.3" cy="277.7" r="3.35" fill="#8c564b"/>
<circle cx="484.8" cy="281.1" r="3.35" fill="#8c564b"/>
<circle cx="488.7" cy="280.8" r="3.35" fill="#8c564b"/>
<circle cx="491.7" cy="282.4" r="3.35" fill="#8c564b"/>
<circle cx="495.2" cy="282.9" r="3.35" fill="#8c564b"/>
<circle cx="496.5" cy="282.6" r="3.35" fill="#8c564b"/>
<circle cx="499.7" cy="280.8" r="3.35" fill="#8c564b"/>
<circle cx="504.6" cy="280.6" r="3.35" fill="#8c564b"/>
<circle cx="508.4" cy="283.1" r="3.35" fill="#8c564b"/>
<circle cx="511.6" cy="281.9" r="3.35" fill="#8c564b"/>
<circle cx="515.3" cy="280.7" r="3.35" fill="#8c564b"/>
<circle cx="483.7" cy="284.2" r="3.35" fill="#8c564b"/>
<circle cx="486.6" cy="284.1" r="3.35" fill="#8c564b"/>
<circle cx="489.2" cy="283.5" r="3.35" fill="#8c564b"/>
<circle cx="492.3" cy="285.2" r="3.35" fill="#8c564b"/>
<circle cx="494.7" cy="283.9" r="3.35" fill="#8c564b"/>
<circle cx="500.4" cy="285.2" r="3.35" fill="#8c564b"/>
<circle cx="501.6" cy="284.0" r="3.35" fill="#8c564b"/>
<circle cx="505.9" cy="284.4" r="3.35" fill="#8c564b"/>
<circle cx="509.5" cy="285.3" r="3.35" fill="#8c564b"/>
<circle cx="513.5" cy="284.4" r="3.35" fill="#8c564b"/>
<circle cx="515.0" cy="284.2" r="3.35" fill="#8c564b"/>
<circle cx="479.8" cy="288.5" r="3.35" fill="#8c564b"/>
<circle cx="483.9" cy="287.1" r="3.35" fill="#8c564b"/>
<circle cx="486.4" cy="288.1" r="3.35" fill="#8c564b"/>
<circle cx="491.1" cy="288.8" r="3.35" fill="#8c564b"/>
<circle cx="494.2" cy="288.8" r="3.35" fill="#8c564b"/>
<circle cx="496.4" cy="288.0" r="3.35" fill="#8c564b"/>
<circle cx="502.2" cy="286.5" r="3.35" fill="#8c564b"/>
<circle cx="503.1" cy="288.0" r="3.35" fill="#8c564b"/>
<circle cx="507.6" cy="288.3" r="3.35" fill="#8c564b"/>
<circle cx="510.4" cy="287.6" r="3.35" fill="#8c564b"/>
<circle cx="482.9" cy="291.6" r="3.35" fill="#8c564b"/>
<circle cx="488.0" cy="290.5" r="3.35" fill="#8c564b"/>
<circle cx="493.6" cy="290.9" r="3.35" fill="#8c564b"/>
<circle cx="496.6" cy="290.4" r="3.35" fill="#8c564b"/>
<circle cx="500.1" cy="290.2" r="3.35" fill="#8c564b"/>
<circle cx="503.5" cy="289.6" r="3.35" fill="#8c564b"/>
<circle cx="505.3" cy="290.8" r="3.35" fill="#8c564b"/>
<circle cx="509.0" cy="291.3" r="3.35" fill="#8c564b"/>
<circle cx="513.3" cy="290.0" r="3.35" fill="#8c564b"/>
<circle cx="484.3" cy="293.3" r="3.35" fill="#8c564b"/>
<circle cx="488.7" cy="292.4" r="3.35" fill="#8c564b"/>
<circle cx="491.5" cy="294.2" r="3.35" fill="#8c564b"/>
<circle cx="495.4" cy="293.1" r="3.35" fill="#8c564b"/>
<circle cx="498.2" cy="293.9" r="3.35" fill="#8c564b"/>
<circle cx="505.3" cy="292.6" r="3.35" fill="#8c564b"/>
<circle cx="507.7" cy="294.4" r="3.35" fill="#8c564b"/>
<circle cx="512.3" cy="294.5" r="3.35" fill="#8c564b"/>
<circle cx="514.6" cy="292.3" r="3.35" fill="#8c564b"/>
<circle cx="479.9" cy="296.5" r="3.35" fill="#8c564b"/>
<circle cx="482.6" cy="296.6" r="3.35" fill="#8c564b"/>
<circle cx="484.8" cy="296.4" r="3.35" fill="#8c564b"/>
<circle cx="489.1" cy="296.7" r="3.35" fill="#8c564b"/>
<circle cx="491.6" cy="296.4" r="3.35" fill="#8c564b"/>
<circle cx="494.8" cy="295.4" r="3.35" fill="#8c564b"/>
<circle cx="499.7" cy="295.8" r="3.35" fill="#8c564b"/>
<circle cx="478.0" cy="299.0" r="3.35" fill="#8c564b"/>
<circle cx="480.0" cy="298.9" r="3.35" fill="#8c564b"/>
<circle cx="483.9" cy="298.7" r="3.35" fill="#8c564b"/>
<circle cx="486.8" cy="300.7" r="3.35" fill="#8c564b"/>
<circle cx="489.6" cy="298.9" r="3.35" fill="#8c564b"/>
<circle cx="493.5" cy="299.6" r="3.35" fill="#8c564b"/>
<circle cx="498.0" cy="298.5" r="3.35" fill="#8c564b"/>
<circle cx="499.8" cy="298.2" r="3.35" fill="#8c564b"/>
<circle cx="482.8" cy="301.2" r="3.35" fill="#8c564b"/>
<circle cx="488.7" cy="301.3" r="3.35" fill="#8c564b"/>
<circle cx="491.3" cy="303.2" r="3.35" fill="#8c564b"/>
<circle cx="496.8" cy="303.4" r="3.35" fill="#8c564b"/>
<circle cx="491.5" cy="306.3" r="3.35" fill="#8c564b"/>
<circle cx="493.9" cy="305.2" r="3.35" fill="#8c564b"/>
<circle cx="499.9" cy="305.7" r="3.35" fill="#8c564b"/>
<circle cx="499.7" cy="307.3" r="3.35" fill="#8c564b"/>
<circle cx="462.4" cy="221.6" r="3.35" fill="#8c564b"/>
<circle cx="469.0" cy="237.0" r="3.35" fill="#8c564b"/>
<circle cx="507.4" cy="229.6" r="3.35" fill="#8c564b"/>
<circle cx="518.8" cy="229.4" r="3.35" fill="#8c564b"/>
<circle cx="485.6" cy="242.6" r="3.35" fill="#8c564b"/>
<circle cx="484.0" cy="250.0" r="3.35" fill="#8c564b"/>
<circle cx="473.0" cy="256.4" r="3.35" fill="#8c564b"/>
<circle cx="469.0" cy="259.0" r="3.35" fill="#8c564b"/>
<circle cx="467.0" cy="262.4" r="3.35" fill="#8c564b"/>
<circle cx="465.0" cy="268.4" r="3.35" fill="#8c564b"/>
<circle cx="472.0" cy="267.0" r="3.35" fill="#8c564b"/>
<circle cx="478.0" cy="263.0" r="3.35" fill="#8c564b"/>
<circle cx="521.0" cy="270.4" r="3.35" fill="#8c564b"/>
<circle cx="518.4" cy="279.4" r="3.35" fill="#8c564b"/>
<circle cx="517.6" cy="296.4" r="3.35" fill="#8c564b"/>
<circle cx="510.4" cy="296.0" r="3.35" fill="#8c564b"/>
<circle cx="473.0" cy="298.4" r="3.35" fill="#8c564b"/>
<circle cx="475.6" cy="285.6" r="3.35" fill="#8c564b"/>
<circle cx="475.6" cy="288.6" r="3.35" fill="#8c564b"/>
<circle cx="499.4" cy="308.6" r="3.35" fill="#8c564b"/>
<circle cx="490.0" cy="312.4" r="3.35" fill="#8c564b"/>
<circle cx="475.6" cy="317.0" r="3.35" fill="#8c564b"/>
<circle cx="483.0" cy="318.6" r="3.35" fill="#8c564b"/>
<circle cx="490.0" cy="323.0" r="3.35" fill="#8c564b"/>
<circle cx="494.4" cy="321.0" r="3.35" fill="#8c564b"/>
<circle cx="470.0" cy="341.4" r="3.35" fill="#8c564b"/>
<circle cx="434.4" cy="350.6" r="3.35" fill="#8c564b"/>
<circle cx="463.6" cy="358.0" r="3.35" fill="#8c564b"/>
<circle cx="499.4" cy="309.0" r="3.35" fill="#8c564b"/>
<circle cx="490.0" cy="312.0" r="3.35" fill="#8c564b"/>
<circle cx="473.0" cy="298.4" r="3.35" fill="#8c564b"/>
</g>
<rect x="81.4" y="1.4" width="486.20000000000005" height="482.0" fill="none" stroke="#262626" stroke-width="1.4"/>
<line x1="142.82" y1="483.4" x2="142.82" y2="490.4" stroke="#262626" stroke-width="1.4"/>
<text x="142.82" y="509.2" font-size="19.2" text-anchor="middle">−0.8</text>
<line x1="74.4" y1="421.92" x2="81.4" y2="421.92" stroke="#262626" stroke-width="1.4"/>
<text x="71.10000000000001" y="428.92" font-size="19.2" text-anchor="end">−0.8</text>
<line x1="231.46" y1="483.4" x2="231.46" y2="490.4" stroke="#262626" stroke-width="1.4"/>
<text x="231.46" y="509.2" font-size="19.2" text-anchor="middle">−0.4</text>
<line x1="74.4" y1="334.16" x2="81.4" y2="334.16" stroke="#262626" stroke-width="1.4"/>
<text x="71.10000000000001" y="341.16" font-size="19.2" text-anchor="end">−0.4</text>
<line x1="320.10" y1="483.4" x2="320.10" y2="490.4" stroke="#262626" stroke-width="1.4"/>
<text x="320.10" y="509.2" font-size="19.2" text-anchor="middle">0.0</text>
<line x1="74.4" y1="246.40" x2="81.4" y2="246.40" stroke="#262626" stroke-width="1.4"/>
<text x="71.10000000000001" y="253.40" font-size="19.2" text-anchor="end">0.0</text>
<line x1="408.74" y1="483.4" x2="408.74" y2="490.4" stroke="#262626" stroke-width="1.4"/>
<text x="408.74" y="509.2" font-size="19.2" text-anchor="middle">0.4</text>
<line x1="74.4" y1="158.64" x2="81.4" y2="158.64" stroke="#262626" stroke-width="1.4"/>
<text x="71.10000000000001" y="165.64" font-size="19.2" text-anchor="end">0.4</text>
<line x1="497.38" y1="483.4" x2="497.38" y2="490.4" stroke="#262626" stroke-width="1.4"/>
<text x="497.38" y="509.2" font-size="19.2" text-anchor="middle">0.8</text>
<line x1="74.4" y1="70.88" x2="81.4" y2="70.88" stroke="#262626" stroke-width="1.4"/>
<text x="71.10000000000001" y="77.88" font-size="19.2" text-anchor="end">0.8</text>
<text x="324.90" y="532.9" font-size="21" text-anchor="middle">PC1 (15.5%)</text>
<text transform="translate(15.6,242.40) rotate(-90)" font-size="21" text-anchor="middle">PC2 (14.1%)</text>
<text x="641.2" y="174.3" font-size="21.4" text-anchor="middle">Tester</text>
<circle cx="598.2" cy="197.6" r="3.9" fill="#9467bd"/>
<text x="617" y="202.8" font-size="19.2">LH195</text>
<circle cx="598.2" cy="225.7" r="3.9" fill="#c5b0d5"/>
<text x="617" y="230.9" font-size="19.2">PHT69</text>
<circle cx="598.2" cy="253.8" r="3.9" fill="#8c564b"/>
<text x="617" y="259.0" font-size="19.2">PHZ51</text>
<circle cx="598.2" cy="281.9" r="3.9" fill="#c49c94"/>
<text x="617" y="287.1" font-size="19.2">PHK76</text>
<circle cx="598.2" cy="310.0" r="3.9" fill="#e377c2"/>
<text x="617" y="315.2" font-size="19.2">PHP02</text>
<circle cx="598.2" cy="338.1" r="3.9" fill="#d3d3d3"/>
<text x="617" y="343.3" font-size="19.2">Other</text>
</svg></body></html>
